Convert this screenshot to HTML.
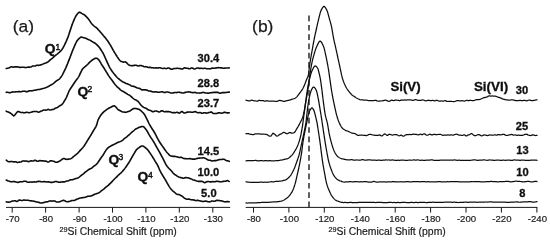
<!DOCTYPE html>
<html><head><meta charset="utf-8"><title>29Si NMR spectra</title>
<style>
html,body{margin:0;padding:0;background:#fff;}
body{width:550px;height:244px;overflow:hidden;font-family:"Liberation Sans",sans-serif;}
svg{display:block}
text{font-family:"Liberation Sans",sans-serif;fill:#111;}
.ca{fill:none;stroke:#0a0a0a;stroke-width:1.6;stroke-linejoin:round;stroke-linecap:round}
.cb{fill:none;stroke:#101010;stroke-width:1.25;stroke-linejoin:round;stroke-linecap:round}
.ax{fill:none;stroke:#1a1a1a;stroke-width:1.0}
.dash{fill:none;stroke:#1a1a1a;stroke-width:1.4;stroke-dasharray:5.7 3.595}
.tl{font-size:9.6px;fill:#1c1c1c;stroke:#1c1c1c;stroke-width:0.2px}
.tt{font-size:10.42px;fill:#1c1c1c;stroke:#1c1c1c;stroke-width:0.2px}
.sp{font-size:7.2px}
.pl{font-size:17.4px;fill:#1a1a1a;stroke:#1a1a1a;stroke-width:0.25px}
.q{font-size:11.9px;font-weight:bold;stroke:#111;stroke-width:0.35px}
.qs{font-size:8.5px;font-weight:normal;stroke:#111;stroke-width:0.45px}
.nb{font-size:10.4px;font-weight:bold;stroke:#111;stroke-width:0.3px}
.si{font-size:12.4px;font-weight:bold;stroke:#111;stroke-width:0.3px}
</style></head><body>
<svg width="550" height="244" viewBox="0 0 550 244">
<defs><filter id="soft" x="0" y="0" width="550" height="244" filterUnits="userSpaceOnUse"><feGaussianBlur stdDeviation="0.32"/></filter></defs>
<rect width="550" height="244" fill="#fff"/>
<g filter="url(#soft)">
<path d="M6.25 68.56 L6.75 68.44 L7.25 68.33 L7.75 68.23 L8.25 68.10 L8.75 67.93 L9.25 67.70 L9.75 67.45 L10.25 67.18 L10.75 66.95 L11.25 66.81 L11.75 66.82 L12.25 66.94 L12.75 67.08 L13.25 67.13 L13.75 67.08 L14.25 66.99 L14.75 66.91 L15.25 66.85 L15.75 66.83 L16.25 66.83 L16.75 66.84 L17.25 66.86 L17.75 66.90 L18.25 67.03 L18.75 67.20 L19.25 67.33 L19.75 67.39 L20.25 67.41 L20.75 67.37 L21.25 67.30 L21.75 67.25 L22.25 67.22 L22.75 67.23 L23.25 67.26 L23.75 67.30 L24.25 67.35 L24.75 67.44 L25.25 67.52 L25.75 67.54 L26.25 67.51 L26.75 67.43 L27.25 67.31 L27.75 67.20 L28.25 67.12 L28.75 67.11 L29.25 67.13 L29.75 67.11 L30.25 67.03 L30.75 66.90 L31.25 66.71 L31.75 66.49 L32.25 66.25 L32.75 66.08 L33.25 66.01 L33.75 66.03 L34.25 66.04 L34.75 66.01 L35.25 65.92 L35.75 65.74 L36.25 65.50 L36.75 65.32 L37.25 65.27 L37.75 65.31 L38.25 65.36 L38.75 65.36 L39.25 65.31 L39.75 65.20 L40.25 65.04 L40.75 64.88 L41.25 64.72 L41.75 64.57 L42.25 64.36 L42.75 64.12 L43.25 63.86 L43.75 63.63 L44.25 63.45 L44.75 63.30 L45.25 63.17 L45.75 63.03 L46.25 62.83 L46.75 62.59 L47.25 62.30 L47.75 61.98 L48.25 61.64 L48.75 61.26 L49.25 60.84 L49.75 60.37 L50.25 59.90 L50.75 59.47 L51.25 59.07 L51.75 58.70 L52.25 58.31 L52.75 57.89 L53.25 57.43 L53.75 56.94 L54.25 56.44 L54.75 55.96 L55.25 55.54 L55.75 55.16 L56.25 54.79 L56.75 54.41 L57.25 54.01 L57.75 53.59 L58.25 53.17 L58.75 52.74 L59.25 52.32 L59.75 51.89 L60.25 51.43 L60.75 50.92 L61.25 50.35 L61.75 49.70 L62.25 48.98 L62.75 48.22 L63.25 47.40 L63.75 46.49 L64.25 45.51 L64.75 44.48 L65.25 43.41 L65.75 42.34 L66.25 41.24 L66.75 40.11 L67.25 38.92 L67.75 37.68 L68.25 36.36 L68.75 34.93 L69.25 33.35 L69.75 31.72 L70.25 30.16 L70.75 28.67 L71.25 27.20 L71.75 25.77 L72.25 24.39 L72.75 23.07 L73.25 21.82 L73.75 20.59 L74.25 19.39 L74.75 18.26 L75.25 17.23 L75.75 16.31 L76.25 15.54 L76.75 14.82 L77.25 14.11 L77.75 13.48 L78.25 12.93 L78.75 12.52 L79.25 12.25 L79.75 12.33 L80.25 12.53 L80.75 12.79 L81.25 13.09 L81.75 13.39 L82.25 13.67 L82.75 13.93 L83.25 14.17 L83.75 14.44 L84.25 14.77 L84.75 15.19 L85.25 15.66 L85.75 16.17 L86.25 16.67 L86.75 17.18 L87.25 17.66 L87.75 18.16 L88.25 18.76 L88.75 19.43 L89.25 20.16 L89.75 20.92 L90.25 21.68 L90.75 22.41 L91.25 23.10 L91.75 23.73 L92.25 24.31 L92.75 24.82 L93.25 25.29 L93.75 25.76 L94.25 26.19 L94.75 26.57 L95.25 26.91 L95.75 27.24 L96.25 27.62 L96.75 28.05 L97.25 28.55 L97.75 29.10 L98.25 29.67 L98.75 30.23 L99.25 30.79 L99.75 31.33 L100.25 31.88 L100.75 32.42 L101.25 32.97 L101.75 33.55 L102.25 34.17 L102.75 34.82 L103.25 35.45 L103.75 36.04 L104.25 36.60 L104.75 37.14 L105.25 37.72 L105.75 38.35 L106.25 39.01 L106.75 39.68 L107.25 40.36 L107.75 41.05 L108.25 41.78 L108.75 42.54 L109.25 43.33 L109.75 44.12 L110.25 44.94 L110.75 45.77 L111.25 46.64 L111.75 47.54 L112.25 48.47 L112.75 49.40 L113.25 50.32 L113.75 51.17 L114.25 52.01 L114.75 52.82 L115.25 53.62 L115.75 54.42 L116.25 55.22 L116.75 56.03 L117.25 56.82 L117.75 57.57 L118.25 58.29 L118.75 59.01 L119.25 59.69 L119.75 60.30 L120.25 60.81 L120.75 61.20 L121.25 61.44 L121.75 61.60 L122.25 61.77 L122.75 61.96 L123.25 62.10 L123.75 62.12 L124.25 62.04 L124.75 61.93 L125.25 61.87 L125.75 62.03 L126.25 62.39 L126.75 62.88 L127.25 63.43 L127.75 63.97 L128.25 64.46 L128.75 64.88 L129.25 65.17 L129.75 65.35 L130.25 65.46 L130.75 65.57 L131.25 65.66 L131.75 65.68 L132.25 65.67 L132.75 65.63 L133.25 65.55 L133.75 65.47 L134.25 65.39 L134.75 65.33 L135.25 65.29 L135.75 65.26 L136.25 65.31 L136.75 65.44 L137.25 65.63 L137.75 65.83 L138.25 65.93 L138.75 65.88 L139.25 65.73 L139.75 65.58 L140.25 65.50 L140.75 65.51 L141.25 65.59 L141.75 65.71 L142.25 65.89 L142.75 66.08 L143.25 66.28 L143.75 66.50 L144.25 66.68 L144.75 66.73 L145.25 66.69 L145.75 66.65 L146.25 66.69 L146.75 66.84 L147.25 67.05 L147.75 67.27 L148.25 67.42 L148.75 67.45 L149.25 67.38 L149.75 67.33 L150.25 67.37 L150.75 67.48 L151.25 67.62 L151.75 67.71 L152.25 67.75 L152.75 67.77 L153.25 67.81 L153.75 67.87 L154.25 67.93 L154.75 67.96 L155.25 67.93 L155.75 67.88 L156.25 67.83 L156.75 67.84 L157.25 67.90 L157.75 67.94 L158.25 67.90 L158.75 67.81 L159.25 67.72 L159.75 67.70 L160.25 67.76 L160.75 67.90 L161.25 68.12 L161.75 68.32 L162.25 68.44 L162.75 68.47 L163.25 68.41 L163.75 68.31 L164.25 68.26 L164.75 68.30 L165.25 68.44 L165.75 68.56 L166.25 68.58 L166.75 68.51 L167.25 68.34 L167.75 68.13 L168.25 68.01 L168.75 68.03 L169.25 68.19 L169.75 68.44 L170.25 68.71 L170.75 68.97 L171.25 69.17 L171.75 69.24 L172.25 69.16 L172.75 68.94 L173.25 68.68 L173.75 68.52 L174.25 68.49 L174.75 68.52 L175.25 68.56 L175.75 68.55 L176.25 68.45 L176.75 68.32 L177.25 68.26 L177.75 68.31 L178.25 68.42 L178.75 68.51 L179.25 68.54 L179.75 68.54 L180.25 68.59 L180.75 68.71 L181.25 68.88 L181.75 69.00 L182.25 68.98 L182.75 68.80 L183.25 68.48 L183.75 68.12 L184.25 67.89 L184.75 67.87 L185.25 68.00 L185.75 68.13 L186.25 68.19 L186.75 68.18 L187.25 68.18 L187.75 68.28 L188.25 68.49 L188.75 68.70 L189.25 68.78 L189.75 68.68 L190.25 68.46 L190.75 68.21 L191.25 68.03 L191.75 67.99 L192.25 68.10 L192.75 68.29 L193.25 68.53 L193.75 68.76 L194.25 68.92 L194.75 68.95 L195.25 68.84 L195.75 68.63 L196.25 68.37 L196.75 68.13 L197.25 67.99 L197.75 67.96 L198.25 68.05 L198.75 68.22 L199.25 68.35 L199.75 68.39 L200.25 68.34 L200.75 68.26 L201.25 68.24 L201.75 68.33 L202.25 68.46 L202.75 68.54 L203.25 68.51 L203.75 68.42 L204.25 68.33 L204.75 68.27 L205.25 68.28 L205.75 68.41 L206.25 68.59 L206.75 68.73 L207.25 68.77 L207.75 68.74 L208.25 68.71 L208.75 68.69 L209.25 68.73 L209.75 68.82 L210.25 68.84 L210.75 68.72 L211.25 68.49 L211.75 68.25 L212.25 68.10 L212.75 68.11 L213.25 68.20 L213.75 68.28 L214.25 68.29 L214.75 68.22 L215.25 68.10 L215.75 67.99 L216.25 67.91 L216.75 67.85 L217.25 67.79 L217.75 67.71 L218.25 67.66 L218.75 67.67 L219.25 67.72 L219.75 67.79 L220.25 67.82 L220.75 67.83 L221.25 67.83 L221.75 67.86 L222.25 67.96 L222.75 68.11 L223.25 68.22 L223.75 68.26 L224.25 68.22 L224.75 68.13 L225.25 68.07 L225.75 68.06 L226.25 68.07 L226.75 68.06 L227.25 68.02 L227.75 67.97 L228.25 67.93 L228.75 67.91 L229.25 67.89" class="ca"/>
<path d="M6.25 92.35 L6.75 92.27 L7.25 92.26 L7.75 92.33 L8.25 92.44 L8.75 92.55 L9.25 92.65 L9.75 92.69 L10.25 92.66 L10.75 92.55 L11.25 92.37 L11.75 92.14 L12.25 91.97 L12.75 91.89 L13.25 91.90 L13.75 91.95 L14.25 92.00 L14.75 91.98 L15.25 91.90 L15.75 91.79 L16.25 91.74 L16.75 91.74 L17.25 91.75 L17.75 91.73 L18.25 91.66 L18.75 91.61 L19.25 91.58 L19.75 91.60 L20.25 91.68 L20.75 91.72 L21.25 91.68 L21.75 91.55 L22.25 91.38 L22.75 91.25 L23.25 91.21 L23.75 91.24 L24.25 91.28 L24.75 91.31 L25.25 91.37 L25.75 91.48 L26.25 91.60 L26.75 91.67 L27.25 91.63 L27.75 91.47 L28.25 91.24 L28.75 91.01 L29.25 90.85 L29.75 90.79 L30.25 90.80 L30.75 90.82 L31.25 90.84 L31.75 90.82 L32.25 90.73 L32.75 90.61 L33.25 90.47 L33.75 90.38 L34.25 90.32 L34.75 90.28 L35.25 90.23 L35.75 90.13 L36.25 89.99 L36.75 89.84 L37.25 89.69 L37.75 89.57 L38.25 89.50 L38.75 89.46 L39.25 89.43 L39.75 89.38 L40.25 89.28 L40.75 89.15 L41.25 88.99 L41.75 88.83 L42.25 88.68 L42.75 88.56 L43.25 88.45 L43.75 88.34 L44.25 88.21 L44.75 88.05 L45.25 87.85 L45.75 87.63 L46.25 87.40 L46.75 87.17 L47.25 86.96 L47.75 86.73 L48.25 86.48 L48.75 86.22 L49.25 85.94 L49.75 85.66 L50.25 85.37 L50.75 85.08 L51.25 84.80 L51.75 84.53 L52.25 84.24 L52.75 83.93 L53.25 83.59 L53.75 83.21 L54.25 82.78 L54.75 82.32 L55.25 81.88 L55.75 81.44 L56.25 81.03 L56.75 80.66 L57.25 80.34 L57.75 80.04 L58.25 79.75 L58.75 79.43 L59.25 79.05 L59.75 78.57 L60.25 78.00 L60.75 77.37 L61.25 76.67 L61.75 75.90 L62.25 75.07 L62.75 74.18 L63.25 73.22 L63.75 72.21 L64.25 71.16 L64.75 70.09 L65.25 69.04 L65.75 67.97 L66.25 66.84 L66.75 65.66 L67.25 64.44 L67.75 63.17 L68.25 61.89 L68.75 60.62 L69.25 59.37 L69.75 58.11 L70.25 56.80 L70.75 55.47 L71.25 54.11 L71.75 52.75 L72.25 51.42 L72.75 50.15 L73.25 48.95 L73.75 47.81 L74.25 46.67 L74.75 45.52 L75.25 44.38 L75.75 43.27 L76.25 42.23 L76.75 41.31 L77.25 40.55 L77.75 39.93 L78.25 39.39 L78.75 38.90 L79.25 38.45 L79.75 37.99 L80.25 37.52 L80.75 37.18 L81.25 37.16 L81.75 37.23 L82.25 37.32 L82.75 37.45 L83.25 37.59 L83.75 37.71 L84.25 37.85 L84.75 38.01 L85.25 38.19 L85.75 38.37 L86.25 38.56 L86.75 38.77 L87.25 38.99 L87.75 39.22 L88.25 39.46 L88.75 39.67 L89.25 39.87 L89.75 40.09 L90.25 40.37 L90.75 40.69 L91.25 41.01 L91.75 41.32 L92.25 41.62 L92.75 41.91 L93.25 42.17 L93.75 42.43 L94.25 42.71 L94.75 43.01 L95.25 43.37 L95.75 43.76 L96.25 44.20 L96.75 44.66 L97.25 45.14 L97.75 45.64 L98.25 46.16 L98.75 46.70 L99.25 47.30 L99.75 47.97 L100.25 48.69 L100.75 49.46 L101.25 50.24 L101.75 51.05 L102.25 51.85 L102.75 52.66 L103.25 53.52 L103.75 54.51 L104.25 55.59 L104.75 56.72 L105.25 57.87 L105.75 59.02 L106.25 60.14 L106.75 61.21 L107.25 62.30 L107.75 63.41 L108.25 64.51 L108.75 65.57 L109.25 66.58 L109.75 67.53 L110.25 68.40 L110.75 69.19 L111.25 69.96 L111.75 70.71 L112.25 71.44 L112.75 72.14 L113.25 72.81 L113.75 73.44 L114.25 74.03 L114.75 74.61 L115.25 75.20 L115.75 75.80 L116.25 76.40 L116.75 76.98 L117.25 77.53 L117.75 78.03 L118.25 78.46 L118.75 78.86 L119.25 79.25 L119.75 79.64 L120.25 80.01 L120.75 80.40 L121.25 80.80 L121.75 81.20 L122.25 81.55 L122.75 81.85 L123.25 82.09 L123.75 82.28 L124.25 82.48 L124.75 82.71 L125.25 82.97 L125.75 83.22 L126.25 83.44 L126.75 83.63 L127.25 83.80 L127.75 83.99 L128.25 84.19 L128.75 84.39 L129.25 84.61 L129.75 84.86 L130.25 85.17 L130.75 85.53 L131.25 85.87 L131.75 86.13 L132.25 86.27 L132.75 86.31 L133.25 86.33 L133.75 86.39 L134.25 86.52 L134.75 86.72 L135.25 86.96 L135.75 87.19 L136.25 87.42 L136.75 87.65 L137.25 87.87 L137.75 88.07 L138.25 88.21 L138.75 88.29 L139.25 88.38 L139.75 88.53 L140.25 88.80 L140.75 89.14 L141.25 89.48 L141.75 89.74 L142.25 89.88 L142.75 89.90 L143.25 89.85 L143.75 89.81 L144.25 89.81 L144.75 89.84 L145.25 89.87 L145.75 89.90 L146.25 89.97 L146.75 90.12 L147.25 90.31 L147.75 90.52 L148.25 90.73 L148.75 90.90 L149.25 91.01 L149.75 91.07 L150.25 91.13 L150.75 91.24 L151.25 91.39 L151.75 91.55 L152.25 91.71 L152.75 91.84 L153.25 91.91 L153.75 91.93 L154.25 91.91 L154.75 91.85 L155.25 91.78 L155.75 91.77 L156.25 91.84 L156.75 91.98 L157.25 92.14 L157.75 92.27 L158.25 92.32 L158.75 92.29 L159.25 92.21 L159.75 92.13 L160.25 92.02 L160.75 91.91 L161.25 91.79 L161.75 91.70 L162.25 91.72 L162.75 91.87 L163.25 92.13 L163.75 92.39 L164.25 92.54 L164.75 92.53 L165.25 92.39 L165.75 92.19 L166.25 92.04 L166.75 91.98 L167.25 91.99 L167.75 92.07 L168.25 92.17 L168.75 92.29 L169.25 92.44 L169.75 92.59 L170.25 92.76 L170.75 92.91 L171.25 93.01 L171.75 93.07 L172.25 93.08 L172.75 93.01 L173.25 92.86 L173.75 92.70 L174.25 92.54 L174.75 92.46 L175.25 92.48 L175.75 92.56 L176.25 92.60 L176.75 92.55 L177.25 92.43 L177.75 92.31 L178.25 92.22 L178.75 92.19 L179.25 92.26 L179.75 92.38 L180.25 92.47 L180.75 92.53 L181.25 92.64 L181.75 92.82 L182.25 92.97 L182.75 93.04 L183.25 93.00 L183.75 92.88 L184.25 92.69 L184.75 92.50 L185.25 92.39 L185.75 92.34 L186.25 92.29 L186.75 92.21 L187.25 92.08 L187.75 91.94 L188.25 91.85 L188.75 91.85 L189.25 91.92 L189.75 92.02 L190.25 92.13 L190.75 92.25 L191.25 92.38 L191.75 92.48 L192.25 92.58 L192.75 92.66 L193.25 92.67 L193.75 92.57 L194.25 92.45 L194.75 92.40 L195.25 92.48 L195.75 92.62 L196.25 92.79 L196.75 92.93 L197.25 92.98 L197.75 92.96 L198.25 92.95 L198.75 93.00 L199.25 93.06 L199.75 93.08 L200.25 93.07 L200.75 93.01 L201.25 92.90 L201.75 92.73 L202.25 92.58 L202.75 92.47 L203.25 92.40 L203.75 92.43 L204.25 92.57 L204.75 92.76 L205.25 92.89 L205.75 92.95 L206.25 93.00 L206.75 93.05 L207.25 93.11 L207.75 93.18 L208.25 93.21 L208.75 93.16 L209.25 93.02 L209.75 92.88 L210.25 92.79 L210.75 92.73 L211.25 92.69 L211.75 92.65 L212.25 92.63 L212.75 92.57 L213.25 92.47 L213.75 92.39 L214.25 92.35 L214.75 92.33 L215.25 92.34 L215.75 92.35 L216.25 92.36 L216.75 92.34 L217.25 92.30 L217.75 92.33 L218.25 92.49 L218.75 92.74 L219.25 92.98 L219.75 93.16 L220.25 93.20 L220.75 93.11 L221.25 92.94 L221.75 92.76 L222.25 92.65 L222.75 92.62 L223.25 92.62 L223.75 92.63 L224.25 92.62 L224.75 92.58 L225.25 92.55 L225.75 92.50 L226.25 92.46 L226.75 92.39 L227.25 92.28 L227.75 92.17 L228.25 92.10 L228.75 92.08 L229.25 92.15" class="ca"/>
<path d="M6.25 111.20 L6.75 111.45 L7.25 111.66 L7.75 111.85 L8.25 112.06 L8.75 112.27 L9.25 112.49 L9.75 112.73 L10.25 113.00 L10.75 113.35 L11.25 113.75 L11.75 114.17 L12.25 114.60 L12.75 115.04 L13.25 115.48 L13.75 115.93 L14.25 115.63 L14.75 115.06 L15.25 114.46 L15.75 113.81 L16.25 113.12 L16.75 112.47 L17.25 111.95 L17.75 111.64 L18.25 111.59 L18.75 111.65 L19.25 111.84 L19.75 112.07 L20.25 112.25 L20.75 112.36 L21.25 112.42 L21.75 112.47 L22.25 112.51 L22.75 112.56 L23.25 112.63 L23.75 112.70 L24.25 112.76 L24.75 112.75 L25.25 112.64 L25.75 112.44 L26.25 112.28 L26.75 112.23 L27.25 112.30 L27.75 112.43 L28.25 112.59 L28.75 112.69 L29.25 112.68 L29.75 112.59 L30.25 112.46 L30.75 112.34 L31.25 112.20 L31.75 112.05 L32.25 111.88 L32.75 111.71 L33.25 111.57 L33.75 111.51 L34.25 111.50 L34.75 111.50 L35.25 111.49 L35.75 111.46 L36.25 111.47 L36.75 111.54 L37.25 111.70 L37.75 111.93 L38.25 112.13 L38.75 112.18 L39.25 112.06 L39.75 111.83 L40.25 111.54 L40.75 111.29 L41.25 111.09 L41.75 110.90 L42.25 110.68 L42.75 110.40 L43.25 110.14 L43.75 109.98 L44.25 109.95 L44.75 110.03 L45.25 110.16 L45.75 110.21 L46.25 110.13 L46.75 109.92 L47.25 109.65 L47.75 109.45 L48.25 109.41 L48.75 109.55 L49.25 109.80 L49.75 109.99 L50.25 110.03 L50.75 109.95 L51.25 109.80 L51.75 109.66 L52.25 109.58 L52.75 109.51 L53.25 109.39 L53.75 109.18 L54.25 108.90 L54.75 108.59 L55.25 108.28 L55.75 108.04 L56.25 107.87 L56.75 107.68 L57.25 107.43 L57.75 107.15 L58.25 106.83 L58.75 106.51 L59.25 106.18 L59.75 105.84 L60.25 105.53 L60.75 105.25 L61.25 104.98 L61.75 104.66 L62.25 104.19 L62.75 103.57 L63.25 102.84 L63.75 102.04 L64.25 101.21 L64.75 100.39 L65.25 99.58 L65.75 98.74 L66.25 97.76 L66.75 96.65 L67.25 95.44 L67.75 94.19 L68.25 92.94 L68.75 91.76 L69.25 90.71 L69.75 89.81 L70.25 89.03 L70.75 88.29 L71.25 87.56 L71.75 86.80 L72.25 86.02 L72.75 85.25 L73.25 84.46 L73.75 83.71 L74.25 82.98 L74.75 82.25 L75.25 81.53 L75.75 80.84 L76.25 80.15 L76.75 79.47 L77.25 78.80 L77.75 78.11 L78.25 77.38 L78.75 76.56 L79.25 75.60 L79.75 74.54 L80.25 73.45 L80.75 72.36 L81.25 71.32 L81.75 70.36 L82.25 69.53 L82.75 68.84 L83.25 68.25 L83.75 67.75 L84.25 67.32 L84.75 66.91 L85.25 66.50 L85.75 66.09 L86.25 65.67 L86.75 65.24 L87.25 64.75 L87.75 64.24 L88.25 63.70 L88.75 63.15 L89.25 62.62 L89.75 62.15 L90.25 61.72 L90.75 61.30 L91.25 60.87 L91.75 60.44 L92.25 60.04 L92.75 59.71 L93.25 59.40 L93.75 59.10 L94.25 58.82 L94.75 58.57 L95.25 58.38 L95.75 58.30 L96.25 58.18 L96.75 58.28 L97.25 58.58 L97.75 58.98 L98.25 59.40 L98.75 59.85 L99.25 60.45 L99.75 61.19 L100.25 62.04 L100.75 62.95 L101.25 63.87 L101.75 64.73 L102.25 65.49 L102.75 66.20 L103.25 66.92 L103.75 67.69 L104.25 68.52 L104.75 69.36 L105.25 70.20 L105.75 71.02 L106.25 71.81 L106.75 72.59 L107.25 73.39 L107.75 74.22 L108.25 75.05 L108.75 75.84 L109.25 76.59 L109.75 77.31 L110.25 77.99 L110.75 78.63 L111.25 79.26 L111.75 79.90 L112.25 80.57 L112.75 81.27 L113.25 82.00 L113.75 82.73 L114.25 83.43 L114.75 84.07 L115.25 84.68 L115.75 85.26 L116.25 85.82 L116.75 86.35 L117.25 86.85 L117.75 87.31 L118.25 87.75 L118.75 88.20 L119.25 88.66 L119.75 89.15 L120.25 89.62 L120.75 90.06 L121.25 90.45 L121.75 90.79 L122.25 91.07 L122.75 91.33 L123.25 91.56 L123.75 91.79 L124.25 92.06 L124.75 92.38 L125.25 92.72 L125.75 93.05 L126.25 93.37 L126.75 93.70 L127.25 94.04 L127.75 94.34 L128.25 94.60 L128.75 94.85 L129.25 95.12 L129.75 95.44 L130.25 95.82 L130.75 96.26 L131.25 96.71 L131.75 97.15 L132.25 97.58 L132.75 98.01 L133.25 98.42 L133.75 98.80 L134.25 99.14 L134.75 99.43 L135.25 99.67 L135.75 99.90 L136.25 100.16 L136.75 100.46 L137.25 100.80 L137.75 101.18 L138.25 101.65 L138.75 102.23 L139.25 102.88 L139.75 103.56 L140.25 104.23 L140.75 104.84 L141.25 105.36 L141.75 105.81 L142.25 106.21 L142.75 106.61 L143.25 107.03 L143.75 107.40 L144.25 107.67 L144.75 107.83 L145.25 107.96 L145.75 108.14 L146.25 108.40 L146.75 108.73 L147.25 109.12 L147.75 109.50 L148.25 109.81 L148.75 110.04 L149.25 110.18 L149.75 110.30 L150.25 110.44 L150.75 110.61 L151.25 110.87 L151.75 111.22 L152.25 111.58 L152.75 111.79 L153.25 111.78 L153.75 111.60 L154.25 111.34 L154.75 111.12 L155.25 111.01 L155.75 111.00 L156.25 111.07 L156.75 111.21 L157.25 111.35 L157.75 111.49 L158.25 111.68 L158.75 111.87 L159.25 111.97 L159.75 111.87 L160.25 111.57 L160.75 111.20 L161.25 110.89 L161.75 110.74 L162.25 110.83 L162.75 111.06 L163.25 111.33 L163.75 111.56 L164.25 111.68 L164.75 111.69 L165.25 111.65 L165.75 111.60 L166.25 111.59 L166.75 111.61 L167.25 111.62 L167.75 111.63 L168.25 111.66 L168.75 111.66 L169.25 111.69 L169.75 111.75 L170.25 111.89 L170.75 112.11 L171.25 112.35 L171.75 112.55 L172.25 112.67 L172.75 112.70 L173.25 112.64 L173.75 112.59 L174.25 112.59 L174.75 112.66 L175.25 112.68 L175.75 112.59 L176.25 112.45 L176.75 112.32 L177.25 112.32 L177.75 112.46 L178.25 112.72 L178.75 113.00 L179.25 113.11 L179.75 112.97 L180.25 112.59 L180.75 112.12 L181.25 111.74 L181.75 111.55 L182.25 111.63 L182.75 111.97 L183.25 112.45 L183.75 112.86 L184.25 113.07 L184.75 113.07 L185.25 112.93 L185.75 112.68 L186.25 112.40 L186.75 112.21 L187.25 112.16 L187.75 112.16 L188.25 112.13 L188.75 112.05 L189.25 111.98 L189.75 111.97 L190.25 112.03 L190.75 112.13 L191.25 112.24 L191.75 112.29 L192.25 112.25 L192.75 112.21 L193.25 112.14 L193.75 111.99 L194.25 111.79 L194.75 111.65 L195.25 111.63 L195.75 111.79 L196.25 112.05 L196.75 112.29 L197.25 112.51 L197.75 112.65 L198.25 112.70 L198.75 112.70 L199.25 112.63 L199.75 112.56 L200.25 112.57 L200.75 112.68 L201.25 112.92 L201.75 113.18 L202.25 113.32 L202.75 113.27 L203.25 113.05 L203.75 112.81 L204.25 112.69 L204.75 112.71 L205.25 112.84 L205.75 113.02 L206.25 113.13 L206.75 113.14 L207.25 113.06 L207.75 112.90 L208.25 112.72 L208.75 112.58 L209.25 112.47 L209.75 112.37 L210.25 112.24 L210.75 112.11 L211.25 112.08 L211.75 112.26 L212.25 112.63 L212.75 113.05 L213.25 113.38 L213.75 113.57 L214.25 113.58 L214.75 113.52 L215.25 113.52 L215.75 113.57 L216.25 113.57 L216.75 113.44 L217.25 113.23 L217.75 113.05 L218.25 112.88 L218.75 112.77 L219.25 112.79 L219.75 112.88 L220.25 112.97 L220.75 113.07 L221.25 113.17 L221.75 113.18 L222.25 113.08 L222.75 112.92 L223.25 112.73 L223.75 112.53 L224.25 112.36 L224.75 112.32 L225.25 112.39 L225.75 112.50 L226.25 112.65 L226.75 112.78 L227.25 112.86 L227.75 112.89 L228.25 112.89 L228.75 112.86 L229.25 112.76" class="ca"/>
<path d="M6.25 160.19 L6.75 160.53 L7.25 160.91 L7.75 161.27 L8.25 161.55 L8.75 161.71 L9.25 161.77 L9.75 161.74 L10.25 161.66 L10.75 161.58 L11.25 161.52 L11.75 161.52 L12.25 161.58 L12.75 161.70 L13.25 161.83 L13.75 161.91 L14.25 161.88 L14.75 161.75 L15.25 161.67 L15.75 161.77 L16.25 162.01 L16.75 162.26 L17.25 162.42 L17.75 162.44 L18.25 162.34 L18.75 162.19 L19.25 162.10 L19.75 162.08 L20.25 162.05 L20.75 161.93 L21.25 161.73 L21.75 161.47 L22.25 161.21 L22.75 161.02 L23.25 160.92 L23.75 160.93 L24.25 161.01 L24.75 161.09 L25.25 161.10 L25.75 161.06 L26.25 161.04 L26.75 161.11 L27.25 161.25 L27.75 161.43 L28.25 161.57 L28.75 161.59 L29.25 161.50 L29.75 161.29 L30.25 161.04 L30.75 160.90 L31.25 160.87 L31.75 160.91 L32.25 160.96 L32.75 160.98 L33.25 160.93 L33.75 160.76 L34.25 160.52 L34.75 160.36 L35.25 160.38 L35.75 160.52 L36.25 160.74 L36.75 161.02 L37.25 161.24 L37.75 161.30 L38.25 161.17 L38.75 160.94 L39.25 160.73 L39.75 160.60 L40.25 160.60 L40.75 160.71 L41.25 160.83 L41.75 160.89 L42.25 160.87 L42.75 160.82 L43.25 160.84 L43.75 160.94 L44.25 161.05 L44.75 161.14 L45.25 161.16 L45.75 161.16 L46.25 161.22 L46.75 161.40 L47.25 161.68 L47.75 161.93 L48.25 162.02 L48.75 161.89 L49.25 161.57 L49.75 161.18 L50.25 160.86 L50.75 160.71 L51.25 160.73 L51.75 160.85 L52.25 160.97 L52.75 161.08 L53.25 161.17 L53.75 161.30 L54.25 161.50 L54.75 161.75 L55.25 162.01 L55.75 162.17 L56.25 162.24 L56.75 162.22 L57.25 162.13 L57.75 161.96 L58.25 161.74 L58.75 161.51 L59.25 161.27 L59.75 160.99 L60.25 160.66 L60.75 160.32 L61.25 159.93 L61.75 159.53 L62.25 159.16 L62.75 158.84 L63.25 158.61 L63.75 158.50 L64.25 158.56 L64.75 158.74 L65.25 158.96 L65.75 159.17 L66.25 159.32 L66.75 159.39 L67.25 159.39 L67.75 159.31 L68.25 159.16 L68.75 159.08 L69.25 159.07 L69.75 159.02 L70.25 158.89 L70.75 158.67 L71.25 158.40 L71.75 158.06 L72.25 157.66 L72.75 157.24 L73.25 156.84 L73.75 156.43 L74.25 156.00 L74.75 155.57 L75.25 155.16 L75.75 154.78 L76.25 154.37 L76.75 153.95 L77.25 153.52 L77.75 153.07 L78.25 152.57 L78.75 152.03 L79.25 151.47 L79.75 150.90 L80.25 150.35 L80.75 149.83 L81.25 149.30 L81.75 148.78 L82.25 148.24 L82.75 147.68 L83.25 147.08 L83.75 146.43 L84.25 145.72 L84.75 144.97 L85.25 144.19 L85.75 143.38 L86.25 142.57 L86.75 141.75 L87.25 140.93 L87.75 140.10 L88.25 139.28 L88.75 138.47 L89.25 137.67 L89.75 136.86 L90.25 136.05 L90.75 135.24 L91.25 134.43 L91.75 133.61 L92.25 132.77 L92.75 131.91 L93.25 131.01 L93.75 130.13 L94.25 129.31 L94.75 128.53 L95.25 127.74 L95.75 126.87 L96.25 125.88 L96.75 124.66 L97.25 122.85 L97.75 120.91 L98.25 119.53 L98.75 118.56 L99.25 117.65 L99.75 116.80 L100.25 116.00 L100.75 115.26 L101.25 114.57 L101.75 113.94 L102.25 113.36 L102.75 112.83 L103.25 112.34 L103.75 111.89 L104.25 111.47 L104.75 111.07 L105.25 110.68 L105.75 110.29 L106.25 109.90 L106.75 109.53 L107.25 109.17 L107.75 108.84 L108.25 108.54 L108.75 108.25 L109.25 107.97 L109.75 107.71 L110.25 107.48 L110.75 107.25 L111.25 107.01 L111.75 106.73 L112.25 106.44 L112.75 106.17 L113.25 105.96 L113.75 105.84 L114.25 105.81 L114.75 106.08 L115.25 106.49 L115.75 106.94 L116.25 107.48 L116.75 108.09 L117.25 108.72 L117.75 109.30 L118.25 109.78 L118.75 110.10 L119.25 110.31 L119.75 110.53 L120.25 110.76 L120.75 111.03 L121.25 111.31 L121.75 111.57 L122.25 111.78 L122.75 111.93 L123.25 112.02 L123.75 112.08 L124.25 112.14 L124.75 112.22 L125.25 112.31 L125.75 112.34 L126.25 112.24 L126.75 112.06 L127.25 111.85 L127.75 111.66 L128.25 111.50 L128.75 111.36 L129.25 111.19 L129.75 110.99 L130.25 110.73 L130.75 110.38 L131.25 110.01 L131.75 109.65 L132.25 109.31 L132.75 109.02 L133.25 108.80 L133.75 108.62 L134.25 108.49 L134.75 108.42 L135.25 108.46 L135.75 108.54 L136.25 108.60 L136.75 108.68 L137.25 108.82 L137.75 108.99 L138.25 109.17 L138.75 109.36 L139.25 109.56 L139.75 109.82 L140.25 110.14 L140.75 110.55 L141.25 111.01 L141.75 111.51 L142.25 112.01 L142.75 112.49 L143.25 112.95 L143.75 113.48 L144.25 114.17 L144.75 115.00 L145.25 115.93 L145.75 116.91 L146.25 117.90 L146.75 118.87 L147.25 119.87 L147.75 120.91 L148.25 121.96 L148.75 123.01 L149.25 124.01 L149.75 124.93 L150.25 125.78 L150.75 126.61 L151.25 127.42 L151.75 128.21 L152.25 128.98 L152.75 129.73 L153.25 130.48 L153.75 131.25 L154.25 132.09 L154.75 132.99 L155.25 133.93 L155.75 134.89 L156.25 135.87 L156.75 136.85 L157.25 137.83 L157.75 138.78 L158.25 139.70 L158.75 140.57 L159.25 141.41 L159.75 142.22 L160.25 143.01 L160.75 143.77 L161.25 144.50 L161.75 145.20 L162.25 145.89 L162.75 146.59 L163.25 147.29 L163.75 148.02 L164.25 148.76 L164.75 149.48 L165.25 150.18 L165.75 150.87 L166.25 151.53 L166.75 152.16 L167.25 152.75 L167.75 153.30 L168.25 153.82 L168.75 154.36 L169.25 154.88 L169.75 155.35 L170.25 155.70 L170.75 155.91 L171.25 156.01 L171.75 156.11 L172.25 156.23 L172.75 156.34 L173.25 156.38 L173.75 156.36 L174.25 156.32 L174.75 156.34 L175.25 156.43 L175.75 156.54 L176.25 156.66 L176.75 156.79 L177.25 156.90 L177.75 157.04 L178.25 157.20 L178.75 157.36 L179.25 157.48 L179.75 157.48 L180.25 157.37 L180.75 157.28 L181.25 157.31 L181.75 157.48 L182.25 157.74 L182.75 158.00 L183.25 158.23 L183.75 158.42 L184.25 158.53 L184.75 158.58 L185.25 158.62 L185.75 158.67 L186.25 158.69 L186.75 158.69 L187.25 158.71 L187.75 158.75 L188.25 158.78 L188.75 158.74 L189.25 158.67 L189.75 158.63 L190.25 158.64 L190.75 158.74 L191.25 158.89 L191.75 159.02 L192.25 159.09 L192.75 159.10 L193.25 159.10 L193.75 159.13 L194.25 159.15 L194.75 159.14 L195.25 159.08 L195.75 158.90 L196.25 158.66 L196.75 158.48 L197.25 158.38 L197.75 158.33 L198.25 158.29 L198.75 158.21 L199.25 158.14 L199.75 158.10 L200.25 158.05 L200.75 158.02 L201.25 158.01 L201.75 157.98 L202.25 157.93 L202.75 157.87 L203.25 157.82 L203.75 157.82 L204.25 157.94 L204.75 158.15 L205.25 158.38 L205.75 158.64 L206.25 158.93 L206.75 159.24 L207.25 159.54 L207.75 159.80 L208.25 160.01 L208.75 160.14 L209.25 160.18 L209.75 160.23 L210.25 160.33 L210.75 160.48 L211.25 160.67 L211.75 160.84 L212.25 160.93 L212.75 160.91 L213.25 160.80 L213.75 160.71 L214.25 160.66 L214.75 160.64 L215.25 160.65 L215.75 160.64 L216.25 160.54 L216.75 160.40 L217.25 160.24 L217.75 160.07 L218.25 159.91 L218.75 159.75 L219.25 159.62 L219.75 159.53 L220.25 159.49 L220.75 159.49 L221.25 159.51 L221.75 159.48 L222.25 159.39 L222.75 159.32 L223.25 159.27 L223.75 159.28 L224.25 159.37 L224.75 159.58 L225.25 159.90 L225.75 160.23 L226.25 160.50 L226.75 160.66 L227.25 160.77 L227.75 160.85 L228.25 160.95 L228.75 161.11 L229.25 161.34" class="ca"/>
<path d="M6.25 179.96 L6.75 180.17 L7.25 180.42 L7.75 180.68 L8.25 180.91 L8.75 181.09 L9.25 181.24 L9.75 181.39 L10.25 181.55 L10.75 181.69 L11.25 181.77 L11.75 181.78 L12.25 181.72 L12.75 181.63 L13.25 181.57 L13.75 181.57 L14.25 181.59 L14.75 181.65 L15.25 181.76 L15.75 181.91 L16.25 182.08 L16.75 182.23 L17.25 182.34 L17.75 182.40 L18.25 182.35 L18.75 182.20 L19.25 182.03 L19.75 181.89 L20.25 181.82 L20.75 181.81 L21.25 181.80 L21.75 181.78 L22.25 181.73 L22.75 181.61 L23.25 181.47 L23.75 181.33 L24.25 181.24 L24.75 181.18 L25.25 181.20 L25.75 181.33 L26.25 181.57 L26.75 181.82 L27.25 182.04 L27.75 182.21 L28.25 182.30 L28.75 182.27 L29.25 182.17 L29.75 182.08 L30.25 182.03 L30.75 182.03 L31.25 182.07 L31.75 182.13 L32.25 182.14 L32.75 182.08 L33.25 182.00 L33.75 181.92 L34.25 181.88 L34.75 181.91 L35.25 181.98 L35.75 182.01 L36.25 181.95 L36.75 181.79 L37.25 181.63 L37.75 181.49 L38.25 181.39 L38.75 181.38 L39.25 181.41 L39.75 181.45 L40.25 181.51 L40.75 181.59 L41.25 181.67 L41.75 181.73 L42.25 181.75 L42.75 181.73 L43.25 181.68 L43.75 181.62 L44.25 181.61 L44.75 181.65 L45.25 181.71 L45.75 181.78 L46.25 181.88 L46.75 181.95 L47.25 181.95 L47.75 181.92 L48.25 181.88 L48.75 181.90 L49.25 182.02 L49.75 182.18 L50.25 182.30 L50.75 182.34 L51.25 182.35 L51.75 182.37 L52.25 182.37 L52.75 182.32 L53.25 182.22 L53.75 182.05 L54.25 181.83 L54.75 181.61 L55.25 181.47 L55.75 181.44 L56.25 181.50 L56.75 181.59 L57.25 181.73 L57.75 181.92 L58.25 182.10 L58.75 182.22 L59.25 182.24 L59.75 182.20 L60.25 182.16 L60.75 182.11 L61.25 182.03 L61.75 181.95 L62.25 181.88 L62.75 181.83 L63.25 181.82 L63.75 181.84 L64.25 181.86 L64.75 181.81 L65.25 181.63 L65.75 181.36 L66.25 181.14 L66.75 181.04 L67.25 181.03 L67.75 181.00 L68.25 180.88 L68.75 180.67 L69.25 180.38 L69.75 180.10 L70.25 179.89 L70.75 179.80 L71.25 179.77 L71.75 179.73 L72.25 179.68 L72.75 179.61 L73.25 179.49 L73.75 179.31 L74.25 179.11 L74.75 178.91 L75.25 178.72 L75.75 178.56 L76.25 178.44 L76.75 178.32 L77.25 178.18 L77.75 177.96 L78.25 177.70 L78.75 177.40 L79.25 177.07 L79.75 176.67 L80.25 176.23 L80.75 175.79 L81.25 175.38 L81.75 175.01 L82.25 174.69 L82.75 174.37 L83.25 173.99 L83.75 173.54 L84.25 173.06 L84.75 172.58 L85.25 172.14 L85.75 171.77 L86.25 171.42 L86.75 171.07 L87.25 170.71 L87.75 170.33 L88.25 169.94 L88.75 169.57 L89.25 169.24 L89.75 168.97 L90.25 168.73 L90.75 168.50 L91.25 168.25 L91.75 167.95 L92.25 167.57 L92.75 167.15 L93.25 166.73 L93.75 166.31 L94.25 165.93 L94.75 165.58 L95.25 165.23 L95.75 164.85 L96.25 164.40 L96.75 163.88 L97.25 163.30 L97.75 162.67 L98.25 162.00 L98.75 161.30 L99.25 160.57 L99.75 159.79 L100.25 159.01 L100.75 158.24 L101.25 157.51 L101.75 156.83 L102.25 156.17 L102.75 155.48 L103.25 154.72 L103.75 153.90 L104.25 153.05 L104.75 152.21 L105.25 151.40 L105.75 150.63 L106.25 149.90 L106.75 149.22 L107.25 148.61 L107.75 148.07 L108.25 147.64 L108.75 147.28 L109.25 146.97 L109.75 146.68 L110.25 146.38 L110.75 146.07 L111.25 145.77 L111.75 145.49 L112.25 145.21 L112.75 144.96 L113.25 144.74 L113.75 144.52 L114.25 144.30 L114.75 144.05 L115.25 143.82 L115.75 143.57 L116.25 143.29 L116.75 142.97 L117.25 142.66 L117.75 142.40 L118.25 142.20 L118.75 142.04 L119.25 141.90 L119.75 141.77 L120.25 141.60 L120.75 141.37 L121.25 141.08 L121.75 140.77 L122.25 140.43 L122.75 140.04 L123.25 139.62 L123.75 139.18 L124.25 138.75 L124.75 138.34 L125.25 137.95 L125.75 137.59 L126.25 137.23 L126.75 136.84 L127.25 136.41 L127.75 135.95 L128.25 135.50 L128.75 135.05 L129.25 134.62 L129.75 134.19 L130.25 133.74 L130.75 133.25 L131.25 132.76 L131.75 132.28 L132.25 131.84 L132.75 131.46 L133.25 131.09 L133.75 130.67 L134.25 130.22 L134.75 129.74 L135.25 129.30 L135.75 128.95 L136.25 128.68 L136.75 128.47 L137.25 128.29 L137.75 128.08 L138.25 127.82 L138.75 127.56 L139.25 127.32 L139.75 127.14 L140.25 126.96 L140.75 126.79 L141.25 126.66 L141.75 126.58 L142.25 126.55 L142.75 126.46 L143.25 126.56 L143.75 126.89 L144.25 127.36 L144.75 127.92 L145.25 128.53 L145.75 129.15 L146.25 129.81 L146.75 130.56 L147.25 131.38 L147.75 132.26 L148.25 133.16 L148.75 134.07 L149.25 134.95 L149.75 135.78 L150.25 136.56 L150.75 137.33 L151.25 138.10 L151.75 138.86 L152.25 139.61 L152.75 140.37 L153.25 141.16 L153.75 141.97 L154.25 142.82 L154.75 143.70 L155.25 144.62 L155.75 145.53 L156.25 146.43 L156.75 147.31 L157.25 148.18 L157.75 149.05 L158.25 149.92 L158.75 150.81 L159.25 151.70 L159.75 152.60 L160.25 153.49 L160.75 154.39 L161.25 155.31 L161.75 156.26 L162.25 157.22 L162.75 158.16 L163.25 159.09 L163.75 160.07 L164.25 161.09 L164.75 162.13 L165.25 163.16 L165.75 164.13 L166.25 164.98 L166.75 165.75 L167.25 166.45 L167.75 167.08 L168.25 167.66 L168.75 168.21 L169.25 168.73 L169.75 169.22 L170.25 169.70 L170.75 170.20 L171.25 170.75 L171.75 171.33 L172.25 171.95 L172.75 172.59 L173.25 173.19 L173.75 173.71 L174.25 174.14 L174.75 174.48 L175.25 174.77 L175.75 175.09 L176.25 175.43 L176.75 175.78 L177.25 176.11 L177.75 176.41 L178.25 176.67 L178.75 176.92 L179.25 177.14 L179.75 177.36 L180.25 177.52 L180.75 177.59 L181.25 177.66 L181.75 177.77 L182.25 177.94 L182.75 178.14 L183.25 178.25 L183.75 178.23 L184.25 178.06 L184.75 177.82 L185.25 177.64 L185.75 177.60 L186.25 177.65 L186.75 177.71 L187.25 177.75 L187.75 177.80 L188.25 177.87 L188.75 178.00 L189.25 178.21 L189.75 178.43 L190.25 178.61 L190.75 178.74 L191.25 178.91 L191.75 179.14 L192.25 179.41 L192.75 179.66 L193.25 179.89 L193.75 180.05 L194.25 180.14 L194.75 180.24 L195.25 180.41 L195.75 180.64 L196.25 180.87 L196.75 181.08 L197.25 181.22 L197.75 181.32 L198.25 181.37 L198.75 181.41 L199.25 181.42 L199.75 181.42 L200.25 181.42 L200.75 181.40 L201.25 181.37 L201.75 181.35 L202.25 181.42 L202.75 181.61 L203.25 181.91 L203.75 182.27 L204.25 182.57 L204.75 182.68 L205.25 182.54 L205.75 182.25 L206.25 181.96 L206.75 181.74 L207.25 181.60 L207.75 181.53 L208.25 181.52 L208.75 181.57 L209.25 181.67 L209.75 181.78 L210.25 181.86 L210.75 181.89 L211.25 181.87 L211.75 181.77 L212.25 181.66 L212.75 181.59 L213.25 181.62 L213.75 181.71 L214.25 181.76 L214.75 181.74 L215.25 181.64 L215.75 181.49 L216.25 181.34 L216.75 181.26 L217.25 181.28 L217.75 181.36 L218.25 181.43 L218.75 181.50 L219.25 181.60 L219.75 181.69 L220.25 181.76 L220.75 181.77 L221.25 181.77 L221.75 181.73 L222.25 181.63 L222.75 181.50 L223.25 181.38 L223.75 181.28 L224.25 181.23 L224.75 181.25 L225.25 181.24 L225.75 181.14 L226.25 180.93 L226.75 180.69 L227.25 180.56 L227.75 180.62 L228.25 180.87 L228.75 181.19 L229.25 181.45" class="ca"/>
<path d="M6.25 201.84 L6.75 201.95 L7.25 202.05 L7.75 202.12 L8.25 202.16 L8.75 202.19 L9.25 202.18 L9.75 202.08 L10.25 201.89 L10.75 201.64 L11.25 201.38 L11.75 201.20 L12.25 201.10 L12.75 201.07 L13.25 201.02 L13.75 200.94 L14.25 200.82 L14.75 200.74 L15.25 200.82 L15.75 201.06 L16.25 201.31 L16.75 201.46 L17.25 201.38 L17.75 201.08 L18.25 200.65 L18.75 200.25 L19.25 200.02 L19.75 200.01 L20.25 200.15 L20.75 200.32 L21.25 200.47 L21.75 200.51 L22.25 200.46 L22.75 200.32 L23.25 200.15 L23.75 200.03 L24.25 200.02 L24.75 200.09 L25.25 200.20 L25.75 200.29 L26.25 200.31 L26.75 200.26 L27.25 200.21 L27.75 200.22 L28.25 200.30 L28.75 200.43 L29.25 200.56 L29.75 200.66 L30.25 200.73 L30.75 200.78 L31.25 200.83 L31.75 200.89 L32.25 200.97 L32.75 201.03 L33.25 201.11 L33.75 201.18 L34.25 201.27 L34.75 201.40 L35.25 201.57 L35.75 201.74 L36.25 201.87 L36.75 201.97 L37.25 202.04 L37.75 202.10 L38.25 202.21 L38.75 202.37 L39.25 202.56 L39.75 202.75 L40.25 202.88 L40.75 202.95 L41.25 202.95 L41.75 202.92 L42.25 202.86 L42.75 202.78 L43.25 202.66 L43.75 202.52 L44.25 202.37 L44.75 202.21 L45.25 202.06 L45.75 201.95 L46.25 201.90 L46.75 201.87 L47.25 201.83 L47.75 201.74 L48.25 201.58 L48.75 201.35 L49.25 201.10 L49.75 200.93 L50.25 200.91 L50.75 200.98 L51.25 201.06 L51.75 201.11 L52.25 201.10 L52.75 201.03 L53.25 200.94 L53.75 200.90 L54.25 200.95 L54.75 201.09 L55.25 201.30 L55.75 201.55 L56.25 201.77 L56.75 201.93 L57.25 202.02 L57.75 202.04 L58.25 202.02 L58.75 201.96 L59.25 201.85 L59.75 201.69 L60.25 201.52 L60.75 201.33 L61.25 201.13 L61.75 200.89 L62.25 200.64 L62.75 200.45 L63.25 200.38 L63.75 200.41 L64.25 200.57 L64.75 200.79 L65.25 201.02 L65.75 201.28 L66.25 201.52 L66.75 201.68 L67.25 201.75 L67.75 201.72 L68.25 201.64 L68.75 201.55 L69.25 201.44 L69.75 201.31 L70.25 201.15 L70.75 200.95 L71.25 200.75 L71.75 200.59 L72.25 200.49 L72.75 200.51 L73.25 200.55 L73.75 200.54 L74.25 200.44 L74.75 200.25 L75.25 200.02 L75.75 199.75 L76.25 199.48 L76.75 199.25 L77.25 199.06 L77.75 198.88 L78.25 198.69 L78.75 198.50 L79.25 198.32 L79.75 198.18 L80.25 198.08 L80.75 197.98 L81.25 197.89 L81.75 197.79 L82.25 197.70 L82.75 197.64 L83.25 197.58 L83.75 197.53 L84.25 197.48 L84.75 197.40 L85.25 197.26 L85.75 197.07 L86.25 196.87 L86.75 196.69 L87.25 196.51 L87.75 196.34 L88.25 196.22 L88.75 196.19 L89.25 196.19 L89.75 196.16 L90.25 196.09 L90.75 195.99 L91.25 195.87 L91.75 195.68 L92.25 195.45 L92.75 195.21 L93.25 194.96 L93.75 194.69 L94.25 194.43 L94.75 194.21 L95.25 194.06 L95.75 193.91 L96.25 193.75 L96.75 193.59 L97.25 193.44 L97.75 193.26 L98.25 193.03 L98.75 192.77 L99.25 192.48 L99.75 192.14 L100.25 191.77 L100.75 191.36 L101.25 190.96 L101.75 190.57 L102.25 190.19 L102.75 189.82 L103.25 189.46 L103.75 189.06 L104.25 188.63 L104.75 188.17 L105.25 187.70 L105.75 187.27 L106.25 186.88 L106.75 186.51 L107.25 186.14 L107.75 185.74 L108.25 185.30 L108.75 184.82 L109.25 184.32 L109.75 183.84 L110.25 183.37 L110.75 182.89 L111.25 182.40 L111.75 181.88 L112.25 181.35 L112.75 180.81 L113.25 180.28 L113.75 179.76 L114.25 179.26 L114.75 178.78 L115.25 178.29 L115.75 177.80 L116.25 177.31 L116.75 176.82 L117.25 176.32 L117.75 175.81 L118.25 175.30 L118.75 174.80 L119.25 174.34 L119.75 173.91 L120.25 173.49 L120.75 173.06 L121.25 172.59 L121.75 172.07 L122.25 171.50 L122.75 170.93 L123.25 170.36 L123.75 169.78 L124.25 169.18 L124.75 168.55 L125.25 167.89 L125.75 167.18 L126.25 166.44 L126.75 165.71 L127.25 164.99 L127.75 164.28 L128.25 163.54 L128.75 162.79 L129.25 161.99 L129.75 161.15 L130.25 160.26 L130.75 159.34 L131.25 158.43 L131.75 157.54 L132.25 156.68 L132.75 155.87 L133.25 155.03 L133.75 154.17 L134.25 153.30 L134.75 152.43 L135.25 151.59 L135.75 150.80 L136.25 150.07 L136.75 149.43 L137.25 148.90 L137.75 148.51 L138.25 148.15 L138.75 147.79 L139.25 147.41 L139.75 147.04 L140.25 146.71 L140.75 146.43 L141.25 146.18 L141.75 146.03 L142.25 146.01 L142.75 146.08 L143.25 146.23 L143.75 146.48 L144.25 146.81 L144.75 147.19 L145.25 147.59 L145.75 148.03 L146.25 148.47 L146.75 148.90 L147.25 149.38 L147.75 149.93 L148.25 150.56 L148.75 151.23 L149.25 151.94 L149.75 152.66 L150.25 153.40 L150.75 154.16 L151.25 154.92 L151.75 155.67 L152.25 156.43 L152.75 157.20 L153.25 158.00 L153.75 158.83 L154.25 159.69 L154.75 160.56 L155.25 161.42 L155.75 162.22 L156.25 162.97 L156.75 163.73 L157.25 164.56 L157.75 165.51 L158.25 166.61 L158.75 167.78 L159.25 168.98 L159.75 170.15 L160.25 171.22 L160.75 172.17 L161.25 173.05 L161.75 173.91 L162.25 174.75 L162.75 175.60 L163.25 176.42 L163.75 177.23 L164.25 178.02 L164.75 178.81 L165.25 179.63 L165.75 180.48 L166.25 181.38 L166.75 182.29 L167.25 183.19 L167.75 184.08 L168.25 184.95 L168.75 185.79 L169.25 186.60 L169.75 187.35 L170.25 188.03 L170.75 188.67 L171.25 189.27 L171.75 189.84 L172.25 190.35 L172.75 190.83 L173.25 191.26 L173.75 191.67 L174.25 192.07 L174.75 192.50 L175.25 192.97 L175.75 193.43 L176.25 193.85 L176.75 194.17 L177.25 194.36 L177.75 194.44 L178.25 194.47 L178.75 194.52 L179.25 194.64 L179.75 194.86 L180.25 195.12 L180.75 195.40 L181.25 195.69 L181.75 196.00 L182.25 196.34 L182.75 196.74 L183.25 197.16 L183.75 197.58 L184.25 197.95 L184.75 198.26 L185.25 198.52 L185.75 198.76 L186.25 198.98 L186.75 199.15 L187.25 199.23 L187.75 199.22 L188.25 199.16 L188.75 199.12 L189.25 199.16 L189.75 199.30 L190.25 199.48 L190.75 199.64 L191.25 199.76 L191.75 199.82 L192.25 199.82 L192.75 199.83 L193.25 199.87 L193.75 199.97 L194.25 200.12 L194.75 200.31 L195.25 200.47 L195.75 200.58 L196.25 200.57 L196.75 200.49 L197.25 200.41 L197.75 200.38 L198.25 200.43 L198.75 200.55 L199.25 200.70 L199.75 200.85 L200.25 200.99 L200.75 201.09 L201.25 201.16 L201.75 201.26 L202.25 201.36 L202.75 201.44 L203.25 201.47 L203.75 201.40 L204.25 201.29 L204.75 201.18 L205.25 201.10 L205.75 201.08 L206.25 201.17 L206.75 201.32 L207.25 201.48 L207.75 201.60 L208.25 201.70 L208.75 201.79 L209.25 201.84 L209.75 201.79 L210.25 201.63 L210.75 201.42 L211.25 201.19 L211.75 201.01 L212.25 200.95 L212.75 201.03 L213.25 201.17 L213.75 201.30 L214.25 201.30 L214.75 201.17 L215.25 200.94 L215.75 200.69 L216.25 200.50 L216.75 200.40 L217.25 200.38 L217.75 200.39 L218.25 200.43 L218.75 200.46 L219.25 200.52 L219.75 200.63 L220.25 200.74 L220.75 200.83 L221.25 200.89 L221.75 200.97 L222.25 201.07 L222.75 201.22 L223.25 201.41 L223.75 201.60 L224.25 201.74 L224.75 201.82 L225.25 201.83 L225.75 201.80 L226.25 201.73 L226.75 201.65 L227.25 201.61 L227.75 201.61 L228.25 201.65 L228.75 201.70 L229.25 201.74" class="ca"/>
<path d="M246.00 100.14 L246.50 100.33 L247.00 100.50 L247.50 100.63 L248.00 100.71 L248.50 100.78 L249.00 100.85 L249.50 100.87 L250.00 100.79 L250.50 100.61 L251.00 100.40 L251.50 100.24 L252.00 100.19 L252.50 100.30 L253.00 100.51 L253.50 100.70 L254.00 100.79 L254.50 100.78 L255.00 100.77 L255.50 100.86 L256.00 101.02 L256.50 101.18 L257.00 101.23 L257.50 101.15 L258.00 100.93 L258.50 100.66 L259.00 100.45 L259.50 100.40 L260.00 100.49 L260.50 100.59 L261.00 100.63 L261.50 100.60 L262.00 100.53 L262.50 100.50 L263.00 100.55 L263.50 100.70 L264.00 100.91 L264.50 101.09 L265.00 101.17 L265.50 101.09 L266.00 100.92 L266.50 100.77 L267.00 100.73 L267.50 100.81 L268.00 100.99 L268.50 101.16 L269.00 101.24 L269.50 101.20 L270.00 101.09 L270.50 101.02 L271.00 101.00 L271.50 101.03 L272.00 101.07 L272.50 101.09 L273.00 101.09 L273.50 101.11 L274.00 101.16 L274.50 101.25 L275.00 101.34 L275.50 101.43 L276.00 101.49 L276.50 101.49 L277.00 101.39 L277.50 101.19 L278.00 100.93 L278.50 100.69 L279.00 100.52 L279.50 100.47 L280.00 100.49 L280.50 100.55 L281.00 100.60 L281.50 100.67 L282.00 100.77 L282.50 100.96 L283.00 101.18 L283.50 101.35 L284.00 101.41 L284.50 101.36 L285.00 101.22 L285.50 101.05 L286.00 100.87 L286.50 100.73 L287.00 100.62 L287.50 100.54 L288.00 100.45 L288.50 100.36 L289.00 100.25 L289.50 100.10 L290.00 99.94 L290.50 99.79 L291.00 99.62 L291.50 99.45 L292.00 99.28 L292.50 99.12 L293.00 98.99 L293.50 98.85 L294.00 98.69 L294.50 98.51 L295.00 98.26 L295.50 97.94 L296.00 97.56 L296.50 97.12 L297.00 96.62 L297.50 96.02 L298.00 95.37 L298.50 94.70 L299.00 94.03 L299.50 93.35 L300.00 92.69 L300.50 92.04 L301.00 91.38 L301.50 90.70 L302.00 89.97 L302.50 89.17 L303.00 88.25 L303.50 87.22 L304.00 86.12 L304.50 84.97 L305.00 83.76 L305.50 82.44 L306.00 81.07 L306.50 79.74 L307.00 78.52 L307.50 77.60 L308.00 76.59 L308.50 74.42 L309.00 70.13 L309.50 65.90 L310.00 62.64 L310.50 59.62 L311.00 56.76 L311.50 53.96 L312.00 51.15 L312.50 48.30 L313.00 45.47 L313.50 42.71 L314.00 40.05 L314.50 37.54 L315.00 35.20 L315.50 32.97 L316.00 30.76 L316.50 28.51 L317.00 26.23 L317.50 23.97 L318.00 21.78 L318.50 19.69 L319.00 17.63 L319.50 15.56 L320.00 13.60 L320.50 11.91 L321.00 10.63 L321.50 9.61 L322.00 8.64 L322.50 7.78 L323.00 7.07 L323.50 6.57 L324.00 6.28 L324.50 6.63 L325.00 7.15 L325.50 7.85 L326.00 8.67 L326.50 9.54 L327.00 10.50 L327.50 11.87 L328.00 13.58 L328.50 15.45 L329.00 17.32 L329.50 19.07 L330.00 20.80 L330.50 22.57 L331.00 24.47 L331.50 26.57 L332.00 29.08 L332.50 32.09 L333.00 35.19 L333.50 38.00 L334.00 40.39 L334.50 42.60 L335.00 44.73 L335.50 46.86 L336.00 49.09 L336.50 51.37 L337.00 53.67 L337.50 56.00 L338.00 58.33 L338.50 60.65 L339.00 62.95 L339.50 65.24 L340.00 67.53 L340.50 69.83 L341.00 72.21 L341.50 74.66 L342.00 76.69 L342.50 78.46 L343.00 80.06 L343.50 81.51 L344.00 82.80 L344.50 83.98 L345.00 85.08 L345.50 86.11 L346.00 87.07 L346.50 87.96 L347.00 88.78 L347.50 89.54 L348.00 90.25 L348.50 90.90 L349.00 91.53 L349.50 92.15 L350.00 92.76 L350.50 93.35 L351.00 93.93 L351.50 94.46 L352.00 94.93 L352.50 95.32 L353.00 95.67 L353.50 96.00 L354.00 96.32 L354.50 96.64 L355.00 96.98 L355.50 97.32 L356.00 97.66 L356.50 97.98 L357.00 98.25 L357.50 98.50 L358.00 98.76 L358.50 99.00 L359.00 99.23 L359.50 99.44 L360.00 99.62 L360.50 99.75 L361.00 99.80 L361.50 99.82 L362.00 99.86 L362.50 99.92 L363.00 99.99 L363.50 100.08 L364.00 100.18 L364.50 100.22 L365.00 100.22 L365.50 100.19 L366.00 100.17 L366.50 100.18 L367.00 100.25 L367.50 100.35 L368.00 100.44 L368.50 100.51 L369.00 100.54 L369.50 100.56 L370.00 100.58 L370.50 100.60 L371.00 100.63 L371.50 100.65 L372.00 100.66 L372.50 100.67 L373.00 100.66 L373.50 100.62 L374.00 100.57 L374.50 100.48 L375.00 100.40 L375.50 100.37 L376.00 100.43 L376.50 100.62 L377.00 100.83 L377.50 100.99 L378.00 101.09 L378.50 101.11 L379.00 101.08 L379.50 101.04 L380.00 101.01 L380.50 100.99 L381.00 101.00 L381.50 100.98 L382.00 100.91 L382.50 100.81 L383.00 100.68 L383.50 100.54 L384.00 100.39 L384.50 100.26 L385.00 100.20 L385.50 100.23 L386.00 100.31 L386.50 100.45 L387.00 100.65 L387.50 100.87 L388.00 101.10 L388.50 101.28 L389.00 101.35 L389.50 101.27 L390.00 101.00 L390.50 100.63 L391.00 100.31 L391.50 100.14 L392.00 100.15 L392.50 100.31 L393.00 100.50 L393.50 100.60 L394.00 100.53 L394.50 100.35 L395.00 100.18 L395.50 100.08 L396.00 100.04 L396.50 100.06 L397.00 100.14 L397.50 100.24 L398.00 100.33 L398.50 100.42 L399.00 100.53 L399.50 100.58 L400.00 100.51 L400.50 100.33 L401.00 100.14 L401.50 100.03 L402.00 99.99 L402.50 100.03 L403.00 100.09 L403.50 100.11 L404.00 100.05 L404.50 99.97 L405.00 99.96 L405.50 100.02 L406.00 100.07 L406.50 100.04 L407.00 99.94 L407.50 99.84 L408.00 99.77 L408.50 99.77 L409.00 99.84 L409.50 99.91 L410.00 99.93 L410.50 99.90 L411.00 99.92 L411.50 100.03 L412.00 100.18 L412.50 100.30 L413.00 100.34 L413.50 100.27 L414.00 100.09 L414.50 99.88 L415.00 99.72 L415.50 99.66 L416.00 99.69 L416.50 99.81 L417.00 100.00 L417.50 100.20 L418.00 100.31 L418.50 100.33 L419.00 100.31 L419.50 100.28 L420.00 100.27 L420.50 100.28 L421.00 100.27 L421.50 100.19 L422.00 100.05 L422.50 99.93 L423.00 99.91 L423.50 100.01 L424.00 100.21 L424.50 100.44 L425.00 100.65 L425.50 100.77 L426.00 100.77 L426.50 100.70 L427.00 100.57 L427.50 100.42 L428.00 100.30 L428.50 100.25 L429.00 100.31 L429.50 100.44 L430.00 100.57 L430.50 100.64 L431.00 100.63 L431.50 100.54 L432.00 100.43 L432.50 100.38 L433.00 100.43 L433.50 100.57 L434.00 100.74 L434.50 100.82 L435.00 100.78 L435.50 100.64 L436.00 100.45 L436.50 100.33 L437.00 100.33 L437.50 100.47 L438.00 100.70 L438.50 100.92 L439.00 101.06 L439.50 101.11 L440.00 101.10 L440.50 101.04 L441.00 100.98 L441.50 100.96 L442.00 101.01 L442.50 101.07 L443.00 101.10 L443.50 101.04 L444.00 100.91 L444.50 100.76 L445.00 100.65 L445.50 100.65 L446.00 100.82 L446.50 101.10 L447.00 101.33 L447.50 101.47 L448.00 101.50 L448.50 101.46 L449.00 101.36 L449.50 101.27 L450.00 101.25 L450.50 101.29 L451.00 101.34 L451.50 101.40 L452.00 101.46 L452.50 101.50 L453.00 101.51 L453.50 101.52 L454.00 101.53 L454.50 101.50 L455.00 101.39 L455.50 101.22 L456.00 101.02 L456.50 100.83 L457.00 100.70 L457.50 100.62 L458.00 100.61 L458.50 100.66 L459.00 100.73 L459.50 100.80 L460.00 100.89 L460.50 100.95 L461.00 100.94 L461.50 100.83 L462.00 100.72 L462.50 100.70 L463.00 100.79 L463.50 100.92 L464.00 101.03 L464.50 101.03 L465.00 100.91 L465.50 100.71 L466.00 100.49 L466.50 100.37 L467.00 100.37 L467.50 100.46 L468.00 100.55 L468.50 100.60 L469.00 100.56 L469.50 100.46 L470.00 100.38 L470.50 100.35 L471.00 100.41 L471.50 100.51 L472.00 100.61 L472.50 100.66 L473.00 100.65 L473.50 100.58 L474.00 100.49 L474.50 100.37 L475.00 100.18 L475.50 99.95 L476.00 99.74 L476.50 99.60 L477.00 99.53 L477.50 99.52 L478.00 99.57 L478.50 99.60 L479.00 99.54 L479.50 99.45 L480.00 99.34 L480.50 99.20 L481.00 99.00 L481.50 98.76 L482.00 98.50 L482.50 98.25 L483.00 98.03 L483.50 97.85 L484.00 97.70 L484.50 97.57 L485.00 97.42 L485.50 97.29 L486.00 97.18 L486.50 97.04 L487.00 96.86 L487.50 96.61 L488.00 96.33 L488.50 96.07 L489.00 95.91 L489.50 95.87 L490.00 95.94 L490.50 96.02 L491.00 96.05 L491.50 96.02 L492.00 95.96 L492.50 95.97 L493.00 96.05 L493.50 96.16 L494.00 96.22 L494.50 96.22 L495.00 96.19 L495.50 96.21 L496.00 96.31 L496.50 96.48 L497.00 96.70 L497.50 96.94 L498.00 97.13 L498.50 97.28 L499.00 97.42 L499.50 97.55 L500.00 97.71 L500.50 97.91 L501.00 98.16 L501.50 98.42 L502.00 98.67 L502.50 98.88 L503.00 99.05 L503.50 99.19 L504.00 99.32 L504.50 99.46 L505.00 99.60 L505.50 99.70 L506.00 99.76 L506.50 99.82 L507.00 99.88 L507.50 99.95 L508.00 100.03 L508.50 100.12 L509.00 100.18 L509.50 100.17 L510.00 100.10 L510.50 100.00 L511.00 99.90 L511.50 99.85 L512.00 99.84 L512.50 99.90 L513.00 99.98 L513.50 100.07 L514.00 100.17 L514.50 100.28 L515.00 100.40 L515.50 100.52 L516.00 100.59 L516.50 100.63 L517.00 100.67 L517.50 100.66 L518.00 100.63 L518.50 100.59 L519.00 100.51 L519.50 100.43 L520.00 100.41 L520.50 100.45 L521.00 100.54 L521.50 100.63 L522.00 100.67 L522.50 100.65 L523.00 100.55 L523.50 100.43 L524.00 100.35 L524.50 100.35 L525.00 100.43 L525.50 100.55 L526.00 100.69 L526.50 100.77 L527.00 100.72 L527.50 100.58 L528.00 100.42 L528.50 100.26 L529.00 100.16 L529.50 100.13 L530.00 100.20 L530.50 100.34 L531.00 100.48 L531.50 100.57 L532.00 100.61 L532.50 100.59 L533.00 100.52 L533.50 100.43 L534.00 100.34 L534.50 100.26 L535.00 100.15 L535.50 100.02 L536.00 99.91 L536.50 99.85 L537.00 99.85" class="cb"/>
<path d="M246.00 133.59 L246.50 133.67 L247.00 133.70 L247.50 133.68 L248.00 133.63 L248.50 133.65 L249.00 133.81 L249.50 134.03 L250.00 134.21 L250.50 134.30 L251.00 134.32 L251.50 134.37 L252.00 134.50 L252.50 134.62 L253.00 134.66 L253.50 134.59 L254.00 134.42 L254.50 134.19 L255.00 133.96 L255.50 133.81 L256.00 133.77 L256.50 133.80 L257.00 133.83 L257.50 133.86 L258.00 133.93 L258.50 133.94 L259.00 133.86 L259.50 133.84 L260.00 133.92 L260.50 134.02 L261.00 134.06 L261.50 134.08 L262.00 134.16 L262.50 134.19 L263.00 134.14 L263.50 134.12 L264.00 134.15 L264.50 134.21 L265.00 134.25 L265.50 134.31 L266.00 134.37 L266.50 134.47 L267.00 134.66 L267.50 134.90 L268.00 135.21 L268.50 135.54 L269.00 135.84 L269.50 136.05 L270.00 136.15 L270.50 136.17 L271.00 136.01 L271.50 135.36 L272.00 134.52 L272.50 133.78 L273.00 133.31 L273.50 133.36 L274.00 133.66 L274.50 134.08 L275.00 134.57 L275.50 135.08 L276.00 135.54 L276.50 135.92 L277.00 136.20 L277.50 135.98 L278.00 135.68 L278.50 135.34 L279.00 134.99 L279.50 134.64 L280.00 134.32 L280.50 134.09 L281.00 133.90 L281.50 133.62 L282.00 133.30 L282.50 132.95 L283.00 132.65 L283.50 132.45 L284.00 132.37 L284.50 132.49 L285.00 132.82 L285.50 133.14 L286.00 133.44 L286.50 133.66 L287.00 133.74 L287.50 133.61 L288.00 133.38 L288.50 133.06 L289.00 132.74 L289.50 132.53 L290.00 132.48 L290.50 132.62 L291.00 132.84 L291.50 133.05 L292.00 133.16 L292.50 133.13 L293.00 133.01 L293.50 132.84 L294.00 132.65 L294.50 132.35 L295.00 131.79 L295.50 131.03 L296.00 130.16 L296.50 129.25 L297.00 128.38 L297.50 127.57 L298.00 126.73 L298.50 125.84 L299.00 124.91 L299.50 123.95 L300.00 122.98 L300.50 122.01 L301.00 121.02 L301.50 120.02 L302.00 118.93 L302.50 117.69 L303.00 116.26 L303.50 114.58 L304.00 112.25 L304.50 109.36 L305.00 106.28 L305.50 103.36 L306.00 100.61 L306.50 97.87 L307.00 95.04 L307.50 92.04 L308.00 88.77 L308.50 85.13 L309.00 81.36 L309.50 77.71 L310.00 74.22 L310.50 70.76 L311.00 67.56 L311.50 64.83 L312.00 62.42 L312.50 60.23 L313.00 58.22 L313.50 56.35 L314.00 54.57 L314.50 52.83 L315.00 51.18 L315.50 49.65 L316.00 48.27 L316.50 47.04 L317.00 45.95 L317.50 44.89 L318.00 43.83 L318.50 42.85 L319.00 42.02 L319.50 41.41 L320.00 41.05 L320.50 41.22 L321.00 41.67 L321.50 42.33 L322.00 43.17 L322.50 44.16 L323.00 45.23 L323.50 46.34 L324.00 47.82 L324.50 49.71 L325.00 51.87 L325.50 54.17 L326.00 56.47 L326.50 58.84 L327.00 61.35 L327.50 63.99 L328.00 66.76 L328.50 69.69 L329.00 72.93 L329.50 76.34 L330.00 79.80 L330.50 83.40 L331.00 86.94 L331.50 90.22 L332.00 93.16 L332.50 95.91 L333.00 98.52 L333.50 101.02 L334.00 103.44 L334.50 105.83 L335.00 108.19 L335.50 110.47 L336.00 112.62 L336.50 114.59 L337.00 116.38 L337.50 118.06 L338.00 119.61 L338.50 121.01 L339.00 122.23 L339.50 123.33 L340.00 124.37 L340.50 125.36 L341.00 126.28 L341.50 127.11 L342.00 127.79 L342.50 128.33 L343.00 128.75 L343.50 129.11 L344.00 129.44 L344.50 129.76 L345.00 130.06 L345.50 130.35 L346.00 130.58 L346.50 130.76 L347.00 130.92 L347.50 131.09 L348.00 131.28 L348.50 131.49 L349.00 131.70 L349.50 131.95 L350.00 132.22 L350.50 132.49 L351.00 132.71 L351.50 132.91 L352.00 133.08 L352.50 133.20 L353.00 133.27 L353.50 133.29 L354.00 133.35 L354.50 133.48 L355.00 133.68 L355.50 133.93 L356.00 134.23 L356.50 134.54 L357.00 134.85 L357.50 135.14 L358.00 135.31 L358.50 135.37 L359.00 135.34 L359.50 135.24 L360.00 135.13 L360.50 135.09 L361.00 135.12 L361.50 135.18 L362.00 135.21 L362.50 135.23 L363.00 135.25 L363.50 135.27 L364.00 135.26 L364.50 135.26 L365.00 135.31 L365.50 135.41 L366.00 135.55 L366.50 135.60 L367.00 135.48 L367.50 135.23 L368.00 134.92 L368.50 134.66 L369.00 134.50 L369.50 134.40 L370.00 134.35 L370.50 134.39 L371.00 134.49 L371.50 134.61 L372.00 134.77 L372.50 134.91 L373.00 135.00 L373.50 135.08 L374.00 135.12 L374.50 135.17 L375.00 135.27 L375.50 135.33 L376.00 135.31 L376.50 135.30 L377.00 135.31 L377.50 135.35 L378.00 135.33 L378.50 135.17 L379.00 135.01 L379.50 134.95 L380.00 135.07 L380.50 135.36 L381.00 135.72 L381.50 135.97 L382.00 135.95 L382.50 135.63 L383.00 135.15 L383.50 134.64 L384.00 134.21 L384.50 133.95 L385.00 133.94 L385.50 134.19 L386.00 134.61 L386.50 135.06 L387.00 135.36 L387.50 135.40 L388.00 135.11 L388.50 134.67 L389.00 134.36 L389.50 134.27 L390.00 134.34 L390.50 134.50 L391.00 134.70 L391.50 134.90 L392.00 135.01 L392.50 135.01 L393.00 134.94 L393.50 134.86 L394.00 134.76 L394.50 134.65 L395.00 134.58 L395.50 134.58 L396.00 134.62 L396.50 134.68 L397.00 134.79 L397.50 135.00 L398.00 135.31 L398.50 135.60 L399.00 135.77 L399.50 135.75 L400.00 135.55 L400.50 135.30 L401.00 135.15 L401.50 135.23 L402.00 135.53 L402.50 135.90 L403.00 136.16 L403.50 136.20 L404.00 136.01 L404.50 135.68 L405.00 135.32 L405.50 135.03 L406.00 134.82 L406.50 134.68 L407.00 134.57 L407.50 134.53 L408.00 134.54 L408.50 134.56 L409.00 134.52 L409.50 134.49 L410.00 134.49 L410.50 134.51 L411.00 134.53 L411.50 134.51 L412.00 134.42 L412.50 134.29 L413.00 134.18 L413.50 134.13 L414.00 134.20 L414.50 134.30 L415.00 134.37 L415.50 134.37 L416.00 134.36 L416.50 134.43 L417.00 134.57 L417.50 134.77 L418.00 134.93 L418.50 134.92 L419.00 134.72 L419.50 134.45 L420.00 134.23 L420.50 134.21 L421.00 134.37 L421.50 134.60 L422.00 134.73 L422.50 134.62 L423.00 134.31 L423.50 134.00 L424.00 133.84 L424.50 133.88 L425.00 134.09 L425.50 134.45 L426.00 134.82 L426.50 135.11 L427.00 135.25 L427.50 135.23 L428.00 135.05 L428.50 134.76 L429.00 134.43 L429.50 134.25 L430.00 134.28 L430.50 134.44 L431.00 134.64 L431.50 134.86 L432.00 134.98 L432.50 134.90 L433.00 134.65 L433.50 134.40 L434.00 134.27 L434.50 134.28 L435.00 134.39 L435.50 134.56 L436.00 134.72 L436.50 134.74 L437.00 134.64 L437.50 134.54 L438.00 134.50 L438.50 134.45 L439.00 134.37 L439.50 134.31 L440.00 134.30 L440.50 134.36 L441.00 134.50 L441.50 134.76 L442.00 135.07 L442.50 135.30 L443.00 135.34 L443.50 135.22 L444.00 135.08 L444.50 135.00 L445.00 135.07 L445.50 135.17 L446.00 135.22 L446.50 135.18 L447.00 135.06 L447.50 134.94 L448.00 134.90 L448.50 134.99 L449.00 135.09 L449.50 135.11 L450.00 135.03 L450.50 134.91 L451.00 134.84 L451.50 134.88 L452.00 135.01 L452.50 135.14 L453.00 135.15 L453.50 135.03 L454.00 134.86 L454.50 134.69 L455.00 134.52 L455.50 134.39 L456.00 134.29 L456.50 134.23 L457.00 134.25 L457.50 134.41 L458.00 134.68 L458.50 134.96 L459.00 135.12 L459.50 135.13 L460.00 135.08 L460.50 135.10 L461.00 135.22 L461.50 135.40 L462.00 135.50 L462.50 135.45 L463.00 135.23 L463.50 134.93 L464.00 134.76 L464.50 134.86 L465.00 135.21 L465.50 135.62 L466.00 135.91 L466.50 135.93 L467.00 135.69 L467.50 135.33 L468.00 135.03 L468.50 134.87 L469.00 134.77 L469.50 134.62 L470.00 134.36 L470.50 134.01 L471.00 133.71 L471.50 133.60 L472.00 133.73 L472.50 134.09 L473.00 134.58 L473.50 135.05 L474.00 135.40 L474.50 135.61 L475.00 135.67 L475.50 135.65 L476.00 135.53 L476.50 135.29 L477.00 134.99 L477.50 134.73 L478.00 134.56 L478.50 134.50 L479.00 134.59 L479.50 134.81 L480.00 135.11 L480.50 135.42 L481.00 135.67 L481.50 135.80 L482.00 135.78 L482.50 135.61 L483.00 135.33 L483.50 135.08 L484.00 134.98 L484.50 134.98 L485.00 135.01 L485.50 135.08 L486.00 135.17 L486.50 135.31 L487.00 135.46 L487.50 135.54 L488.00 135.52 L488.50 135.34 L489.00 135.10 L489.50 134.92 L490.00 134.90 L490.50 135.00 L491.00 135.12 L491.50 135.18 L492.00 135.19 L492.50 135.18 L493.00 135.15 L493.50 135.11 L494.00 135.01 L494.50 134.91 L495.00 134.90 L495.50 134.97 L496.00 135.09 L496.50 135.17 L497.00 135.10 L497.50 134.87 L498.00 134.63 L498.50 134.51 L499.00 134.56 L499.50 134.70 L500.00 134.84 L500.50 134.94 L501.00 134.91 L501.50 134.77 L502.00 134.60 L502.50 134.44 L503.00 134.34 L503.50 134.33 L504.00 134.43 L504.50 134.63 L505.00 134.85 L505.50 135.07 L506.00 135.30 L506.50 135.47 L507.00 135.50 L507.50 135.40 L508.00 135.25 L508.50 135.08 L509.00 134.94 L509.50 134.89 L510.00 134.85 L510.50 134.73 L511.00 134.54 L511.50 134.44 L512.00 134.49 L512.50 134.68 L513.00 134.92 L513.50 135.09 L514.00 135.10 L514.50 135.00 L515.00 134.94 L515.50 134.98 L516.00 135.13 L516.50 135.27 L517.00 135.32 L517.50 135.31 L518.00 135.24 L518.50 135.19 L519.00 135.23 L519.50 135.29 L520.00 135.31 L520.50 135.33 L521.00 135.38 L521.50 135.45 L522.00 135.48 L522.50 135.39 L523.00 135.21 L523.50 135.01 L524.00 134.78 L524.50 134.55 L525.00 134.38 L525.50 134.30 L526.00 134.26 L526.50 134.24 L527.00 134.37 L527.50 134.66 L528.00 134.96 L528.50 135.15 L529.00 135.25 L529.50 135.37 L530.00 135.49 L530.50 135.53 L531.00 135.46 L531.50 135.31 L532.00 135.10 L532.50 134.89 L533.00 134.78 L533.50 134.86 L534.00 135.09 L534.50 135.34 L535.00 135.50 L535.50 135.50 L536.00 135.45 L536.50 135.40 L537.00 135.34" class="cb"/>
<path d="M246.00 160.80 L246.50 160.77 L247.00 160.70 L247.50 160.62 L248.00 160.55 L248.50 160.52 L249.00 160.54 L249.50 160.58 L250.00 160.64 L250.50 160.68 L251.00 160.67 L251.50 160.63 L252.00 160.58 L252.50 160.54 L253.00 160.52 L253.50 160.52 L254.00 160.52 L254.50 160.50 L255.00 160.47 L255.50 160.46 L256.00 160.49 L256.50 160.57 L257.00 160.70 L257.50 160.83 L258.00 160.90 L258.50 160.89 L259.00 160.80 L259.50 160.70 L260.00 160.61 L260.50 160.57 L261.00 160.58 L261.50 160.63 L262.00 160.69 L262.50 160.74 L263.00 160.77 L263.50 160.78 L264.00 160.77 L264.50 160.74 L265.00 160.70 L265.50 160.67 L266.00 160.65 L266.50 160.67 L267.00 160.72 L267.50 160.77 L268.00 160.79 L268.50 160.78 L269.00 160.74 L269.50 160.71 L270.00 160.70 L270.50 160.74 L271.00 160.82 L271.50 160.91 L272.00 160.96 L272.50 160.97 L273.00 160.93 L273.50 160.87 L274.00 160.81 L274.50 160.77 L275.00 160.75 L275.50 160.73 L276.00 160.68 L276.50 160.65 L277.00 160.63 L277.50 160.63 L278.00 160.61 L278.50 160.57 L279.00 160.49 L279.50 160.37 L280.00 160.23 L280.50 160.11 L281.00 160.04 L281.50 160.01 L282.00 159.97 L282.50 159.88 L283.00 159.77 L283.50 159.62 L284.00 159.45 L284.50 159.31 L285.00 159.19 L285.50 159.10 L286.00 159.01 L286.50 158.93 L287.00 158.84 L287.50 158.71 L288.00 158.50 L288.50 158.20 L289.00 157.83 L289.50 157.41 L290.00 156.97 L290.50 156.52 L291.00 156.07 L291.50 155.60 L292.00 155.10 L292.50 154.49 L293.00 153.81 L293.50 153.06 L294.00 152.29 L294.50 151.51 L295.00 150.71 L295.50 149.89 L296.00 149.03 L296.50 148.09 L297.00 147.07 L297.50 145.95 L298.00 144.73 L298.50 143.40 L299.00 141.94 L299.50 140.35 L300.00 138.61 L300.50 136.61 L301.00 134.30 L301.50 131.72 L302.00 128.90 L302.50 125.83 L303.00 122.20 L303.50 118.29 L304.00 114.52 L304.50 110.80 L305.00 107.10 L305.50 103.32 L306.00 99.47 L306.50 95.76 L307.00 92.41 L307.50 89.34 L308.00 86.43 L308.50 83.70 L309.00 81.22 L309.50 79.03 L310.00 77.05 L310.50 75.19 L311.00 73.51 L311.50 72.03 L312.00 70.82 L312.50 69.73 L313.00 68.67 L313.50 67.69 L314.00 66.87 L314.50 66.26 L315.00 65.94 L315.50 65.94 L316.00 66.19 L316.50 66.65 L317.00 67.27 L317.50 68.00 L318.00 68.97 L318.50 70.68 L319.00 72.76 L319.50 74.81 L320.00 76.99 L320.50 79.73 L321.00 83.11 L321.50 86.83 L322.00 90.65 L322.50 94.81 L323.00 99.04 L323.50 102.92 L324.00 106.63 L324.50 110.17 L325.00 113.34 L325.50 115.95 L326.00 118.02 L326.50 119.82 L327.00 121.65 L327.50 123.79 L328.00 126.54 L328.50 129.67 L329.00 132.65 L329.50 135.12 L330.00 137.37 L330.50 139.45 L331.00 141.39 L331.50 143.17 L332.00 144.84 L332.50 146.45 L333.00 147.97 L333.50 149.38 L334.00 150.65 L334.50 151.74 L335.00 152.70 L335.50 153.59 L336.00 154.41 L336.50 155.13 L337.00 155.75 L337.50 156.26 L338.00 156.70 L338.50 157.10 L339.00 157.44 L339.50 157.74 L340.00 158.01 L340.50 158.26 L341.00 158.49 L341.50 158.67 L342.00 158.81 L342.50 158.90 L343.00 158.98 L343.50 159.07 L344.00 159.18 L344.50 159.29 L345.00 159.41 L345.50 159.53 L346.00 159.63 L346.50 159.74 L347.00 159.82 L347.50 159.86 L348.00 159.88 L348.50 159.88 L349.00 159.89 L349.50 159.88 L350.00 159.84 L350.50 159.76 L351.00 159.68 L351.50 159.63 L352.00 159.66 L352.50 159.77 L353.00 159.91 L353.50 160.05 L354.00 160.12 L354.50 160.15 L355.00 160.13 L355.50 160.08 L356.00 160.03 L356.50 159.99 L357.00 159.99 L357.50 160.00 L358.00 160.03 L358.50 160.06 L359.00 160.09 L359.50 160.10 L360.00 160.07 L360.50 160.01 L361.00 159.92 L361.50 159.80 L362.00 159.69 L362.50 159.67 L363.00 159.72 L363.50 159.83 L364.00 159.96 L364.50 160.06 L365.00 160.13 L365.50 160.16 L366.00 160.14 L366.50 160.09 L367.00 160.01 L367.50 159.93 L368.00 159.87 L368.50 159.86 L369.00 159.87 L369.50 159.90 L370.00 159.93 L370.50 159.97 L371.00 160.01 L371.50 160.05 L372.00 160.09 L372.50 160.09 L373.00 160.07 L373.50 160.03 L374.00 160.03 L374.50 160.08 L375.00 160.16 L375.50 160.24 L376.00 160.30 L376.50 160.32 L377.00 160.28 L377.50 160.21 L378.00 160.14 L378.50 160.11 L379.00 160.11 L379.50 160.14 L380.00 160.21 L380.50 160.28 L381.00 160.31 L381.50 160.29 L382.00 160.26 L382.50 160.23 L383.00 160.20 L383.50 160.18 L384.00 160.15 L384.50 160.10 L385.00 160.04 L385.50 159.98 L386.00 159.96 L386.50 159.98 L387.00 160.00 L387.50 160.01 L388.00 160.00 L388.50 159.99 L389.00 159.99 L389.50 160.02 L390.00 160.06 L390.50 160.08 L391.00 160.07 L391.50 160.03 L392.00 159.98 L392.50 159.97 L393.00 160.01 L393.50 160.07 L394.00 160.15 L394.50 160.23 L395.00 160.28 L395.50 160.32 L396.00 160.33 L396.50 160.32 L397.00 160.30 L397.50 160.26 L398.00 160.23 L398.50 160.24 L399.00 160.27 L399.50 160.29 L400.00 160.29 L400.50 160.24 L401.00 160.19 L401.50 160.15 L402.00 160.14 L402.50 160.16 L403.00 160.20 L403.50 160.22 L404.00 160.23 L404.50 160.25 L405.00 160.30 L405.50 160.38 L406.00 160.43 L406.50 160.43 L407.00 160.40 L407.50 160.33 L408.00 160.25 L408.50 160.20 L409.00 160.18 L409.50 160.17 L410.00 160.18 L410.50 160.21 L411.00 160.24 L411.50 160.25 L412.00 160.20 L412.50 160.11 L413.00 160.00 L413.50 159.92 L414.00 159.91 L414.50 159.97 L415.00 160.05 L415.50 160.10 L416.00 160.09 L416.50 160.02 L417.00 159.95 L417.50 159.91 L418.00 159.93 L418.50 160.00 L419.00 160.12 L419.50 160.23 L420.00 160.30 L420.50 160.30 L421.00 160.27 L421.50 160.23 L422.00 160.20 L422.50 160.22 L423.00 160.28 L423.50 160.35 L424.00 160.39 L424.50 160.40 L425.00 160.36 L425.50 160.30 L426.00 160.23 L426.50 160.18 L427.00 160.16 L427.50 160.17 L428.00 160.19 L428.50 160.20 L429.00 160.18 L429.50 160.12 L430.00 160.02 L430.50 159.92 L431.00 159.84 L431.50 159.82 L432.00 159.86 L432.50 159.95 L433.00 160.10 L433.50 160.25 L434.00 160.37 L434.50 160.43 L435.00 160.43 L435.50 160.38 L436.00 160.32 L436.50 160.28 L437.00 160.28 L437.50 160.30 L438.00 160.35 L438.50 160.38 L439.00 160.37 L439.50 160.31 L440.00 160.21 L440.50 160.12 L441.00 160.06 L441.50 160.06 L442.00 160.10 L442.50 160.16 L443.00 160.20 L443.50 160.18 L444.00 160.15 L444.50 160.11 L445.00 160.09 L445.50 160.08 L446.00 160.07 L446.50 160.07 L447.00 160.09 L447.50 160.12 L448.00 160.16 L448.50 160.20 L449.00 160.21 L449.50 160.20 L450.00 160.18 L450.50 160.18 L451.00 160.20 L451.50 160.21 L452.00 160.18 L452.50 160.12 L453.00 160.06 L453.50 160.01 L454.00 159.98 L454.50 159.96 L455.00 159.97 L455.50 160.02 L456.00 160.12 L456.50 160.21 L457.00 160.28 L457.50 160.30 L458.00 160.27 L458.50 160.22 L459.00 160.19 L459.50 160.20 L460.00 160.27 L460.50 160.35 L461.00 160.41 L461.50 160.42 L462.00 160.41 L462.50 160.39 L463.00 160.37 L463.50 160.38 L464.00 160.39 L464.50 160.40 L465.00 160.37 L465.50 160.32 L466.00 160.28 L466.50 160.29 L467.00 160.33 L467.50 160.39 L468.00 160.44 L468.50 160.43 L469.00 160.40 L469.50 160.36 L470.00 160.33 L470.50 160.29 L471.00 160.25 L471.50 160.18 L472.00 160.09 L472.50 160.01 L473.00 159.95 L473.50 159.94 L474.00 159.96 L474.50 159.97 L475.00 159.97 L475.50 159.99 L476.00 160.04 L476.50 160.14 L477.00 160.26 L477.50 160.34 L478.00 160.34 L478.50 160.27 L479.00 160.17 L479.50 160.10 L480.00 160.08 L480.50 160.10 L481.00 160.11 L481.50 160.10 L482.00 160.06 L482.50 160.01 L483.00 159.95 L483.50 159.92 L484.00 159.91 L484.50 159.93 L485.00 160.00 L485.50 160.09 L486.00 160.18 L486.50 160.25 L487.00 160.28 L487.50 160.26 L488.00 160.20 L488.50 160.13 L489.00 160.05 L489.50 159.99 L490.00 159.97 L490.50 160.00 L491.00 160.06 L491.50 160.10 L492.00 160.13 L492.50 160.17 L493.00 160.22 L493.50 160.30 L494.00 160.36 L494.50 160.38 L495.00 160.34 L495.50 160.25 L496.00 160.16 L496.50 160.12 L497.00 160.12 L497.50 160.14 L498.00 160.13 L498.50 160.10 L499.00 160.09 L499.50 160.15 L500.00 160.26 L500.50 160.38 L501.00 160.46 L501.50 160.44 L502.00 160.33 L502.50 160.18 L503.00 160.08 L503.50 160.08 L504.00 160.16 L504.50 160.25 L505.00 160.31 L505.50 160.31 L506.00 160.27 L506.50 160.19 L507.00 160.12 L507.50 160.08 L508.00 160.08 L508.50 160.10 L509.00 160.13 L509.50 160.18 L510.00 160.24 L510.50 160.29 L511.00 160.33 L511.50 160.36 L512.00 160.36 L512.50 160.30 L513.00 160.17 L513.50 160.04 L514.00 159.95 L514.50 159.92 L515.00 159.96 L515.50 160.03 L516.00 160.06 L516.50 160.06 L517.00 160.05 L517.50 160.04 L518.00 160.07 L518.50 160.15 L519.00 160.24 L519.50 160.32 L520.00 160.36 L520.50 160.32 L521.00 160.23 L521.50 160.13 L522.00 160.04 L522.50 160.01 L523.00 160.02 L523.50 160.07 L524.00 160.14 L524.50 160.22 L525.00 160.26 L525.50 160.27 L526.00 160.28 L526.50 160.28 L527.00 160.28 L527.50 160.30 L528.00 160.36 L528.50 160.43 L529.00 160.46 L529.50 160.41 L530.00 160.30 L530.50 160.18 L531.00 160.07 L531.50 160.01 L532.00 160.02 L532.50 160.08 L533.00 160.15 L533.50 160.18 L534.00 160.17 L534.50 160.14 L535.00 160.12 L535.50 160.11 L536.00 160.14 L536.50 160.21 L537.00 160.29" class="cb"/>
<path d="M246.00 181.81 L246.50 181.87 L247.00 181.95 L247.50 182.04 L248.00 182.13 L248.50 182.20 L249.00 182.24 L249.50 182.26 L250.00 182.26 L250.50 182.25 L251.00 182.25 L251.50 182.26 L252.00 182.29 L252.50 182.33 L253.00 182.38 L253.50 182.42 L254.00 182.44 L254.50 182.43 L255.00 182.41 L255.50 182.37 L256.00 182.36 L256.50 182.36 L257.00 182.37 L257.50 182.37 L258.00 182.35 L258.50 182.31 L259.00 182.26 L259.50 182.20 L260.00 182.16 L260.50 182.14 L261.00 182.13 L261.50 182.15 L262.00 182.18 L262.50 182.24 L263.00 182.28 L263.50 182.30 L264.00 182.28 L264.50 182.24 L265.00 182.21 L265.50 182.22 L266.00 182.25 L266.50 182.28 L267.00 182.28 L267.50 182.24 L268.00 182.16 L268.50 182.09 L269.00 182.04 L269.50 182.00 L270.00 181.95 L270.50 181.87 L271.00 181.79 L271.50 181.73 L272.00 181.74 L272.50 181.79 L273.00 181.85 L273.50 181.85 L274.00 181.79 L274.50 181.65 L275.00 181.48 L275.50 181.33 L276.00 181.25 L276.50 181.25 L277.00 181.29 L277.50 181.33 L278.00 181.35 L278.50 181.30 L279.00 181.21 L279.50 181.10 L280.00 181.03 L280.50 181.01 L281.00 181.00 L281.50 180.98 L282.00 180.90 L282.50 180.78 L283.00 180.62 L283.50 180.47 L284.00 180.33 L284.50 180.20 L285.00 180.05 L285.50 179.88 L286.00 179.66 L286.50 179.37 L287.00 179.01 L287.50 178.61 L288.00 178.18 L288.50 177.72 L289.00 177.22 L289.50 176.71 L290.00 176.17 L290.50 175.53 L291.00 174.80 L291.50 173.99 L292.00 173.12 L292.50 172.19 L293.00 171.22 L293.50 170.21 L294.00 169.15 L294.50 167.97 L295.00 166.70 L295.50 165.36 L296.00 163.98 L296.50 162.58 L297.00 161.19 L297.50 159.80 L298.00 158.38 L298.50 156.86 L299.00 155.20 L299.50 153.33 L300.00 151.17 L300.50 148.83 L301.00 146.46 L301.50 144.18 L302.00 141.96 L302.50 139.73 L303.00 137.47 L303.50 135.14 L304.00 132.73 L304.50 130.39 L305.00 127.99 L305.50 125.32 L306.00 122.19 L306.50 117.76 L307.00 113.31 L307.50 109.12 L308.00 105.16 L308.50 101.74 L309.00 99.00 L309.50 96.52 L310.00 94.30 L310.50 92.43 L311.00 90.98 L311.50 89.88 L312.00 88.85 L312.50 87.98 L313.00 87.35 L313.50 87.04 L314.00 87.15 L314.50 87.53 L315.00 88.12 L315.50 88.88 L316.00 89.74 L316.50 90.89 L317.00 92.72 L317.50 94.95 L318.00 97.30 L318.50 99.89 L319.00 102.83 L319.50 105.89 L320.00 108.87 L320.50 111.89 L321.00 114.99 L321.50 118.21 L322.00 121.51 L322.50 124.84 L323.00 128.19 L323.50 131.59 L324.00 134.95 L324.50 138.19 L325.00 141.35 L325.50 144.42 L326.00 147.39 L326.50 150.25 L327.00 153.00 L327.50 155.73 L328.00 158.36 L328.50 160.61 L329.00 162.59 L329.50 164.40 L330.00 166.05 L330.50 167.56 L331.00 168.94 L331.50 170.28 L332.00 171.56 L332.50 172.76 L333.00 173.86 L333.50 174.83 L334.00 175.67 L334.50 176.37 L335.00 177.04 L335.50 177.66 L336.00 178.23 L336.50 178.74 L337.00 179.18 L337.50 179.55 L338.00 179.85 L338.50 180.11 L339.00 180.36 L339.50 180.60 L340.00 180.82 L340.50 181.02 L341.00 181.19 L341.50 181.36 L342.00 181.55 L342.50 181.73 L343.00 181.88 L343.50 182.00 L344.00 182.07 L344.50 182.08 L345.00 182.05 L345.50 181.99 L346.00 181.92 L346.50 181.85 L347.00 181.80 L347.50 181.82 L348.00 181.85 L348.50 181.85 L349.00 181.81 L349.50 181.74 L350.00 181.69 L350.50 181.67 L351.00 181.69 L351.50 181.75 L352.00 181.81 L352.50 181.84 L353.00 181.83 L353.50 181.82 L354.00 181.79 L354.50 181.73 L355.00 181.66 L355.50 181.61 L356.00 181.60 L356.50 181.62 L357.00 181.68 L357.50 181.75 L358.00 181.83 L358.50 181.89 L359.00 181.90 L359.50 181.88 L360.00 181.82 L360.50 181.77 L361.00 181.74 L361.50 181.73 L362.00 181.76 L362.50 181.78 L363.00 181.77 L363.50 181.73 L364.00 181.67 L364.50 181.63 L365.00 181.61 L365.50 181.61 L366.00 181.63 L366.50 181.68 L367.00 181.76 L367.50 181.86 L368.00 181.95 L368.50 182.03 L369.00 182.07 L369.50 182.11 L370.00 182.13 L370.50 182.15 L371.00 182.15 L371.50 182.09 L372.00 181.94 L372.50 181.74 L373.00 181.57 L373.50 181.48 L374.00 181.48 L374.50 181.59 L375.00 181.73 L375.50 181.87 L376.00 181.98 L376.50 182.05 L377.00 182.08 L377.50 182.09 L378.00 182.06 L378.50 182.01 L379.00 181.96 L379.50 181.89 L380.00 181.83 L380.50 181.82 L381.00 181.85 L381.50 181.90 L382.00 181.96 L382.50 181.99 L383.00 181.98 L383.50 181.94 L384.00 181.91 L384.50 181.91 L385.00 181.94 L385.50 181.98 L386.00 182.01 L386.50 182.01 L387.00 181.98 L387.50 181.95 L388.00 181.92 L388.50 181.91 L389.00 181.92 L389.50 181.93 L390.00 181.93 L390.50 181.95 L391.00 181.94 L391.50 181.88 L392.00 181.77 L392.50 181.65 L393.00 181.56 L393.50 181.53 L394.00 181.57 L394.50 181.68 L395.00 181.80 L395.50 181.88 L396.00 181.93 L396.50 181.94 L397.00 181.95 L397.50 181.95 L398.00 181.96 L398.50 181.93 L399.00 181.87 L399.50 181.80 L400.00 181.75 L400.50 181.74 L401.00 181.76 L401.50 181.81 L402.00 181.88 L402.50 181.92 L403.00 181.93 L403.50 181.93 L404.00 181.91 L404.50 181.88 L405.00 181.85 L405.50 181.80 L406.00 181.73 L406.50 181.68 L407.00 181.65 L407.50 181.66 L408.00 181.69 L408.50 181.73 L409.00 181.76 L409.50 181.78 L410.00 181.78 L410.50 181.77 L411.00 181.76 L411.50 181.76 L412.00 181.77 L412.50 181.74 L413.00 181.71 L413.50 181.68 L414.00 181.66 L414.50 181.65 L415.00 181.67 L415.50 181.69 L416.00 181.68 L416.50 181.64 L417.00 181.57 L417.50 181.53 L418.00 181.53 L418.50 181.57 L419.00 181.65 L419.50 181.74 L420.00 181.80 L420.50 181.78 L421.00 181.69 L421.50 181.60 L422.00 181.55 L422.50 181.54 L423.00 181.55 L423.50 181.59 L424.00 181.64 L424.50 181.69 L425.00 181.74 L425.50 181.80 L426.00 181.83 L426.50 181.81 L427.00 181.76 L427.50 181.71 L428.00 181.70 L428.50 181.74 L429.00 181.82 L429.50 181.88 L430.00 181.89 L430.50 181.86 L431.00 181.83 L431.50 181.80 L432.00 181.81 L432.50 181.85 L433.00 181.90 L433.50 181.93 L434.00 181.94 L434.50 181.92 L435.00 181.89 L435.50 181.86 L436.00 181.83 L436.50 181.80 L437.00 181.76 L437.50 181.73 L438.00 181.70 L438.50 181.67 L439.00 181.66 L439.50 181.66 L440.00 181.69 L440.50 181.74 L441.00 181.80 L441.50 181.82 L442.00 181.82 L442.50 181.80 L443.00 181.78 L443.50 181.79 L444.00 181.82 L444.50 181.87 L445.00 181.89 L445.50 181.87 L446.00 181.81 L446.50 181.76 L447.00 181.73 L447.50 181.72 L448.00 181.74 L448.50 181.77 L449.00 181.77 L449.50 181.74 L450.00 181.67 L450.50 181.59 L451.00 181.54 L451.50 181.51 L452.00 181.51 L452.50 181.53 L453.00 181.58 L453.50 181.62 L454.00 181.63 L454.50 181.63 L455.00 181.61 L455.50 181.61 L456.00 181.63 L456.50 181.65 L457.00 181.68 L457.50 181.70 L458.00 181.72 L458.50 181.73 L459.00 181.77 L459.50 181.83 L460.00 181.89 L460.50 181.92 L461.00 181.94 L461.50 181.94 L462.00 181.93 L462.50 181.92 L463.00 181.90 L463.50 181.88 L464.00 181.85 L464.50 181.85 L465.00 181.86 L465.50 181.89 L466.00 181.91 L466.50 181.91 L467.00 181.91 L467.50 181.92 L468.00 181.94 L468.50 181.97 L469.00 181.98 L469.50 181.92 L470.00 181.82 L470.50 181.72 L471.00 181.66 L471.50 181.66 L472.00 181.69 L472.50 181.73 L473.00 181.75 L473.50 181.73 L474.00 181.71 L474.50 181.67 L475.00 181.64 L475.50 181.63 L476.00 181.62 L476.50 181.63 L477.00 181.64 L477.50 181.64 L478.00 181.62 L478.50 181.59 L479.00 181.57 L479.50 181.58 L480.00 181.66 L480.50 181.76 L481.00 181.83 L481.50 181.86 L482.00 181.85 L482.50 181.83 L483.00 181.82 L483.50 181.84 L484.00 181.87 L484.50 181.88 L485.00 181.84 L485.50 181.75 L486.00 181.65 L486.50 181.56 L487.00 181.51 L487.50 181.52 L488.00 181.54 L488.50 181.56 L489.00 181.56 L489.50 181.55 L490.00 181.51 L490.50 181.47 L491.00 181.45 L491.50 181.44 L492.00 181.46 L492.50 181.51 L493.00 181.57 L493.50 181.62 L494.00 181.64 L494.50 181.63 L495.00 181.61 L495.50 181.61 L496.00 181.65 L496.50 181.72 L497.00 181.80 L497.50 181.86 L498.00 181.86 L498.50 181.82 L499.00 181.75 L499.50 181.68 L500.00 181.62 L500.50 181.61 L501.00 181.63 L501.50 181.64 L502.00 181.64 L502.50 181.62 L503.00 181.61 L503.50 181.58 L504.00 181.54 L504.50 181.52 L505.00 181.48 L505.50 181.42 L506.00 181.35 L506.50 181.30 L507.00 181.28 L507.50 181.30 L508.00 181.34 L508.50 181.41 L509.00 181.52 L509.50 181.62 L510.00 181.72 L510.50 181.79 L511.00 181.82 L511.50 181.80 L512.00 181.73 L512.50 181.66 L513.00 181.58 L513.50 181.51 L514.00 181.43 L514.50 181.34 L515.00 181.25 L515.50 181.19 L516.00 181.16 L516.50 181.19 L517.00 181.25 L517.50 181.31 L518.00 181.36 L518.50 181.40 L519.00 181.42 L519.50 181.43 L520.00 181.45 L520.50 181.50 L521.00 181.58 L521.50 181.65 L522.00 181.73 L522.50 181.80 L523.00 181.84 L523.50 181.84 L524.00 181.81 L524.50 181.76 L525.00 181.69 L525.50 181.62 L526.00 181.57 L526.50 181.52 L527.00 181.46 L527.50 181.37 L528.00 181.31 L528.50 181.31 L529.00 181.38 L529.50 181.52 L530.00 181.67 L530.50 181.80 L531.00 181.88 L531.50 181.90 L532.00 181.88 L532.50 181.83 L533.00 181.76 L533.50 181.68 L534.00 181.56 L534.50 181.44 L535.00 181.37 L535.50 181.35 L536.00 181.38 L536.50 181.45 L537.00 181.55" class="cb"/>
<path d="M246.00 202.92 L246.50 202.94 L247.00 202.99 L247.50 203.02 L248.00 203.01 L248.50 202.98 L249.00 202.93 L249.50 202.90 L250.00 202.89 L250.50 202.90 L251.00 202.91 L251.50 202.90 L252.00 202.88 L252.50 202.87 L253.00 202.88 L253.50 202.91 L254.00 202.94 L254.50 202.96 L255.00 202.98 L255.50 202.98 L256.00 202.95 L256.50 202.88 L257.00 202.79 L257.50 202.71 L258.00 202.64 L258.50 202.61 L259.00 202.61 L259.50 202.62 L260.00 202.61 L260.50 202.56 L261.00 202.50 L261.50 202.42 L262.00 202.37 L262.50 202.36 L263.00 202.38 L263.50 202.42 L264.00 202.43 L264.50 202.42 L265.00 202.39 L265.50 202.35 L266.00 202.32 L266.50 202.29 L267.00 202.30 L267.50 202.33 L268.00 202.35 L268.50 202.35 L269.00 202.30 L269.50 202.23 L270.00 202.15 L270.50 202.08 L271.00 202.03 L271.50 202.01 L272.00 202.01 L272.50 201.98 L273.00 201.93 L273.50 201.88 L274.00 201.85 L274.50 201.84 L275.00 201.83 L275.50 201.83 L276.00 201.82 L276.50 201.80 L277.00 201.77 L277.50 201.73 L278.00 201.68 L278.50 201.61 L279.00 201.52 L279.50 201.43 L280.00 201.33 L280.50 201.25 L281.00 201.16 L281.50 201.04 L282.00 200.90 L282.50 200.71 L283.00 200.50 L283.50 200.25 L284.00 199.97 L284.50 199.67 L285.00 199.35 L285.50 199.02 L286.00 198.68 L286.50 198.33 L287.00 197.98 L287.50 197.60 L288.00 197.17 L288.50 196.68 L289.00 196.13 L289.50 195.52 L290.00 194.86 L290.50 194.16 L291.00 193.43 L291.50 192.65 L292.00 191.83 L292.50 190.90 L293.00 189.81 L293.50 188.57 L294.00 187.21 L294.50 185.74 L295.00 184.16 L295.50 182.32 L296.00 180.27 L296.50 178.09 L297.00 175.88 L297.50 173.70 L298.00 171.50 L298.50 169.26 L299.00 166.93 L299.50 164.51 L300.00 161.97 L300.50 159.31 L301.00 156.47 L301.50 153.33 L302.00 149.55 L302.50 145.52 L303.00 141.89 L303.50 138.82 L304.00 136.00 L304.50 133.35 L305.00 130.80 L305.50 128.29 L306.00 125.87 L306.50 123.55 L307.00 121.25 L307.50 118.90 L308.00 116.35 L308.50 114.22 L309.00 112.46 L309.50 111.17 L310.00 110.22 L310.50 109.34 L311.00 108.59 L311.50 108.06 L312.00 107.74 L312.50 108.13 L313.00 108.77 L313.50 109.62 L314.00 110.60 L314.50 112.19 L315.00 114.21 L315.50 116.16 L316.00 118.15 L316.50 120.30 L317.00 122.72 L317.50 125.58 L318.00 128.75 L318.50 132.00 L319.00 135.24 L319.50 138.57 L320.00 142.05 L320.50 145.79 L321.00 149.84 L321.50 153.77 L322.00 157.57 L322.50 161.14 L323.00 164.31 L323.50 167.25 L324.00 170.03 L324.50 172.75 L325.00 175.52 L325.50 178.33 L326.00 180.93 L326.50 183.10 L327.00 184.84 L327.50 186.37 L328.00 187.74 L328.50 189.00 L329.00 190.20 L329.50 191.37 L330.00 192.51 L330.50 193.59 L331.00 194.60 L331.50 195.49 L332.00 196.26 L332.50 196.89 L333.00 197.48 L333.50 198.06 L334.00 198.61 L334.50 199.13 L335.00 199.61 L335.50 200.04 L336.00 200.39 L336.50 200.66 L337.00 200.84 L337.50 200.98 L338.00 201.12 L338.50 201.29 L339.00 201.49 L339.50 201.71 L340.00 201.91 L340.50 202.08 L341.00 202.20 L341.50 202.28 L342.00 202.35 L342.50 202.41 L343.00 202.48 L343.50 202.51 L344.00 202.51 L344.50 202.49 L345.00 202.47 L345.50 202.47 L346.00 202.50 L346.50 202.56 L347.00 202.64 L347.50 202.69 L348.00 202.70 L348.50 202.66 L349.00 202.59 L349.50 202.49 L350.00 202.41 L350.50 202.38 L351.00 202.41 L351.50 202.47 L352.00 202.54 L352.50 202.59 L353.00 202.60 L353.50 202.57 L354.00 202.53 L354.50 202.51 L355.00 202.50 L355.50 202.50 L356.00 202.51 L356.50 202.52 L357.00 202.53 L357.50 202.52 L358.00 202.49 L358.50 202.45 L359.00 202.41 L359.50 202.37 L360.00 202.34 L360.50 202.33 L361.00 202.33 L361.50 202.34 L362.00 202.36 L362.50 202.39 L363.00 202.42 L363.50 202.43 L364.00 202.43 L364.50 202.39 L365.00 202.37 L365.50 202.37 L366.00 202.39 L366.50 202.43 L367.00 202.48 L367.50 202.49 L368.00 202.47 L368.50 202.42 L369.00 202.37 L369.50 202.33 L370.00 202.32 L370.50 202.34 L371.00 202.38 L371.50 202.42 L372.00 202.44 L372.50 202.45 L373.00 202.44 L373.50 202.44 L374.00 202.44 L374.50 202.46 L375.00 202.50 L375.50 202.53 L376.00 202.53 L376.50 202.49 L377.00 202.43 L377.50 202.38 L378.00 202.35 L378.50 202.34 L379.00 202.35 L379.50 202.37 L380.00 202.38 L380.50 202.38 L381.00 202.39 L381.50 202.42 L382.00 202.47 L382.50 202.52 L383.00 202.56 L383.50 202.58 L384.00 202.60 L384.50 202.62 L385.00 202.65 L385.50 202.68 L386.00 202.70 L386.50 202.71 L387.00 202.69 L387.50 202.64 L388.00 202.56 L388.50 202.48 L389.00 202.41 L389.50 202.36 L390.00 202.34 L390.50 202.35 L391.00 202.40 L391.50 202.46 L392.00 202.50 L392.50 202.51 L393.00 202.52 L393.50 202.50 L394.00 202.47 L394.50 202.48 L395.00 202.52 L395.50 202.58 L396.00 202.59 L396.50 202.56 L397.00 202.51 L397.50 202.45 L398.00 202.42 L398.50 202.45 L399.00 202.53 L399.50 202.59 L400.00 202.60 L400.50 202.56 L401.00 202.51 L401.50 202.46 L402.00 202.44 L402.50 202.45 L403.00 202.46 L403.50 202.46 L404.00 202.45 L404.50 202.44 L405.00 202.45 L405.50 202.48 L406.00 202.50 L406.50 202.53 L407.00 202.56 L407.50 202.60 L408.00 202.64 L408.50 202.66 L409.00 202.65 L409.50 202.60 L410.00 202.53 L410.50 202.46 L411.00 202.43 L411.50 202.44 L412.00 202.46 L412.50 202.48 L413.00 202.50 L413.50 202.50 L414.00 202.50 L414.50 202.51 L415.00 202.49 L415.50 202.46 L416.00 202.44 L416.50 202.45 L417.00 202.48 L417.50 202.52 L418.00 202.54 L418.50 202.53 L419.00 202.49 L419.50 202.43 L420.00 202.40 L420.50 202.40 L421.00 202.42 L421.50 202.43 L422.00 202.43 L422.50 202.41 L423.00 202.41 L423.50 202.40 L424.00 202.40 L424.50 202.42 L425.00 202.46 L425.50 202.50 L426.00 202.53 L426.50 202.54 L427.00 202.55 L427.50 202.53 L428.00 202.49 L428.50 202.44 L429.00 202.41 L429.50 202.38 L430.00 202.36 L430.50 202.35 L431.00 202.32 L431.50 202.30 L432.00 202.26 L432.50 202.23 L433.00 202.23 L433.50 202.24 L434.00 202.26 L434.50 202.27 L435.00 202.29 L435.50 202.31 L436.00 202.34 L436.50 202.38 L437.00 202.41 L437.50 202.43 L438.00 202.43 L438.50 202.42 L439.00 202.41 L439.50 202.39 L440.00 202.39 L440.50 202.39 L441.00 202.41 L441.50 202.44 L442.00 202.45 L442.50 202.43 L443.00 202.38 L443.50 202.31 L444.00 202.25 L444.50 202.21 L445.00 202.19 L445.50 202.19 L446.00 202.21 L446.50 202.22 L447.00 202.23 L447.50 202.22 L448.00 202.20 L448.50 202.16 L449.00 202.13 L449.50 202.11 L450.00 202.12 L450.50 202.15 L451.00 202.18 L451.50 202.23 L452.00 202.27 L452.50 202.28 L453.00 202.26 L453.50 202.23 L454.00 202.22 L454.50 202.22 L455.00 202.24 L455.50 202.28 L456.00 202.33 L456.50 202.38 L457.00 202.43 L457.50 202.47 L458.00 202.50 L458.50 202.51 L459.00 202.50 L459.50 202.47 L460.00 202.45 L460.50 202.45 L461.00 202.45 L461.50 202.44 L462.00 202.42 L462.50 202.38 L463.00 202.33 L463.50 202.26 L464.00 202.18 L464.50 202.12 L465.00 202.08 L465.50 202.06 L466.00 202.07 L466.50 202.13 L467.00 202.23 L467.50 202.33 L468.00 202.38 L468.50 202.37 L469.00 202.31 L469.50 202.21 L470.00 202.12 L470.50 202.05 L471.00 202.04 L471.50 202.07 L472.00 202.12 L472.50 202.17 L473.00 202.19 L473.50 202.18 L474.00 202.14 L474.50 202.10 L475.00 202.09 L475.50 202.13 L476.00 202.18 L476.50 202.23 L477.00 202.26 L477.50 202.27 L478.00 202.25 L478.50 202.23 L479.00 202.22 L479.50 202.22 L480.00 202.21 L480.50 202.21 L481.00 202.22 L481.50 202.22 L482.00 202.22 L482.50 202.21 L483.00 202.19 L483.50 202.17 L484.00 202.14 L484.50 202.09 L485.00 202.04 L485.50 202.00 L486.00 201.98 L486.50 202.00 L487.00 202.03 L487.50 202.05 L488.00 202.04 L488.50 201.99 L489.00 201.92 L489.50 201.85 L490.00 201.79 L490.50 201.78 L491.00 201.80 L491.50 201.85 L492.00 201.93 L492.50 202.01 L493.00 202.09 L493.50 202.14 L494.00 202.17 L494.50 202.19 L495.00 202.21 L495.50 202.21 L496.00 202.21 L496.50 202.22 L497.00 202.21 L497.50 202.18 L498.00 202.15 L498.50 202.13 L499.00 202.09 L499.50 202.05 L500.00 202.03 L500.50 202.02 L501.00 202.02 L501.50 202.04 L502.00 202.05 L502.50 202.06 L503.00 202.05 L503.50 202.05 L504.00 202.07 L504.50 202.12 L505.00 202.18 L505.50 202.23 L506.00 202.27 L506.50 202.28 L507.00 202.27 L507.50 202.28 L508.00 202.29 L508.50 202.32 L509.00 202.33 L509.50 202.31 L510.00 202.27 L510.50 202.21 L511.00 202.15 L511.50 202.12 L512.00 202.11 L512.50 202.11 L513.00 202.11 L513.50 202.10 L514.00 202.08 L514.50 202.04 L515.00 202.00 L515.50 201.95 L516.00 201.91 L516.50 201.89 L517.00 201.91 L517.50 201.96 L518.00 202.05 L518.50 202.14 L519.00 202.22 L519.50 202.25 L520.00 202.24 L520.50 202.19 L521.00 202.13 L521.50 202.07 L522.00 202.01 L522.50 201.95 L523.00 201.89 L523.50 201.84 L524.00 201.80 L524.50 201.79 L525.00 201.81 L525.50 201.85 L526.00 201.88 L526.50 201.91 L527.00 201.91 L527.50 201.86 L528.00 201.77 L528.50 201.67 L529.00 201.60 L529.50 201.57 L530.00 201.60 L530.50 201.68 L531.00 201.78 L531.50 201.88 L532.00 201.97 L532.50 202.05 L533.00 202.13 L533.50 202.17 L534.00 202.16 L534.50 202.11 L535.00 202.01 L535.50 201.90 L536.00 201.79 L536.50 201.73 L537.00 201.72" class="cb"/>
<path d="M6 207.4 H230.2" class="ax"/>
<path d="M12.2 207.4 V212.6" class="ax"/>
<text x="12.7" y="222" class="tl" text-anchor="middle">-70</text>
<path d="M45.6 207.4 V212.6" class="ax"/>
<text x="46.1" y="222" class="tl" text-anchor="middle">-80</text>
<path d="M79.1 207.4 V212.6" class="ax"/>
<text x="79.6" y="222" class="tl" text-anchor="middle">-90</text>
<path d="M112.5 207.4 V212.6" class="ax"/>
<text x="113.0" y="222" class="tl" text-anchor="middle">-100</text>
<path d="M145.9 207.4 V212.6" class="ax"/>
<text x="146.4" y="222" class="tl" text-anchor="middle">-110</text>
<path d="M179.3 207.4 V212.6" class="ax"/>
<text x="179.8" y="222" class="tl" text-anchor="middle">-120</text>
<path d="M212.8 207.4 V212.6" class="ax"/>
<text x="213.3" y="222" class="tl" text-anchor="middle">-130</text>
<path d="M245.7 207.4 H537.4" class="ax"/>
<path d="M253.5 207.4 V212.6" class="ax"/>
<text x="254.0" y="222" class="tl" text-anchor="middle">-80</text>
<path d="M288.9 207.4 V212.6" class="ax"/>
<text x="289.4" y="222" class="tl" text-anchor="middle">-100</text>
<path d="M324.3 207.4 V212.6" class="ax"/>
<text x="324.8" y="222" class="tl" text-anchor="middle">-120</text>
<path d="M359.8 207.4 V212.6" class="ax"/>
<text x="360.3" y="222" class="tl" text-anchor="middle">-140</text>
<path d="M395.2 207.4 V212.6" class="ax"/>
<text x="395.7" y="222" class="tl" text-anchor="middle">-160</text>
<path d="M430.6 207.4 V212.6" class="ax"/>
<text x="431.1" y="222" class="tl" text-anchor="middle">-180</text>
<path d="M466.0 207.4 V212.6" class="ax"/>
<text x="466.5" y="222" class="tl" text-anchor="middle">-200</text>
<path d="M501.4 207.4 V212.6" class="ax"/>
<text x="501.9" y="222" class="tl" text-anchor="middle">-220</text>
<path d="M536.9 207.4 V212.6" class="ax"/>
<text x="537.4" y="222" class="tl" text-anchor="middle">-240</text>
<path d="M309 15.6 V207" class="dash"/>
<text x="59.5" y="234.5" class="tt"><tspan class="sp" dy="-2.6">29</tspan><tspan dy="2.6">Si Chemical Shift (ppm)</tspan></text>
<text x="328.5" y="234.5" class="tt"><tspan class="sp" dy="-2.6">29</tspan><tspan dy="2.6">Si Chemical Shift (ppm)</tspan></text>
<text x="12.8" y="31.7" class="pl">(a)</text>
<text x="252.1" y="31.7" class="pl">(b)</text>
<text transform="translate(44.85 53.0) scale(1.16 1)" class="q">Q</text><text x="55.4" y="49.6" class="qs">1</text>
<text transform="translate(77.55 95.6) scale(1.16 1)" class="q">Q</text><text x="87.4" y="92.1" class="qs">2</text>
<text transform="translate(108.45 163.6) scale(1.16 1)" class="q">Q</text><text x="118.6" y="160.1" class="qs">3</text>
<text transform="translate(137.55 180.6) scale(1.16 1)" class="q">Q</text><text x="147.9" y="177.5" class="qs">4</text>
<text transform="translate(197.6 62.2) scale(1.07 1)" class="nb">30.4</text>
<text transform="translate(197.6 87.0) scale(1.07 1)" class="nb">28.8</text>
<text transform="translate(197.6 106.6) scale(1.07 1)" class="nb">23.7</text>
<text transform="translate(197.6 154.9) scale(1.07 1)" class="nb">14.5</text>
<text transform="translate(197.6 176.3) scale(1.07 1)" class="nb">10.0</text>
<text transform="translate(201.1 196.9) scale(1.07 1)" class="nb">5.0</text>
<text transform="translate(515.8 94) scale(1.07 1)" class="nb">30</text>
<text transform="translate(515.8 130) scale(1.07 1)" class="nb">25</text>
<text transform="translate(516.3 154.0) scale(1.07 1)" class="nb">13</text>
<text transform="translate(516.3 175.7) scale(1.07 1)" class="nb">10</text>
<text transform="translate(519.3 196.7) scale(1.07 1)" class="nb">8</text>
<text transform="translate(390.4 91) scale(1.07 1)" class="si">Si(V)</text>
<text transform="translate(473.9 91) scale(1.08 1)" class="si">Si(VI)</text>
</g>
</svg>
</body></html>
